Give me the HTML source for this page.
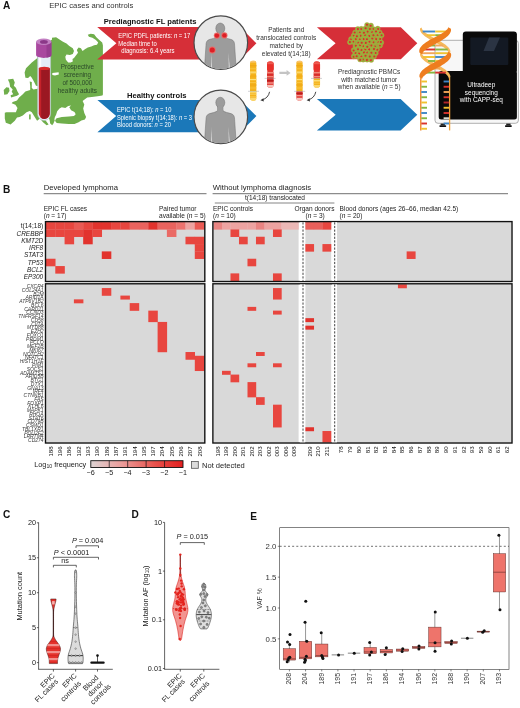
<!DOCTYPE html>
<html lang="en"><head><meta charset="utf-8"><title>Figure</title>
<style>html,body{margin:0;padding:0;background:#fff}svg{display:block}text{font-family:"Liberation Sans",Arial,sans-serif}</style></head>
<body>
<svg width="520" height="708" viewBox="0 0 520 708" font-family='"Liberation Sans", Arial, sans-serif'>
<rect width="520" height="708" fill="#fff"/>
<g id="panelA">
<text x="3.00" y="8.80" font-size="10.1" fill="#111" font-weight="bold">A</text>
<text x="49.20" y="8.30" font-size="7.7" fill="#333">EPIC cases and controls</text>
<path d="M52,39.5 L52,37.8 56.1,37.2 59.5,39.5 63,41.8 66.5,43.6 69.3,45.9 72.8,48.2 74,51.1 72.8,54 69.9,55.1 66.5,54.5 65.3,56.8 65.9,59.7 68.2,62.6 70.5,62.6 72.8,61.4 72.5,59.1 74,58 76.3,55.1 78,52.8 76.8,49.9 78.6,47.6 80.9,48.2 82.6,51.1 84.9,49.3 87.8,47.6 91.3,46.5 94.1,45.3 97,44.7 98.2,42.4 95.9,40.1 92.4,37.8 88.9,36.7 87.8,34.7 90.7,33.8 94.1,34.3 96.4,37.2 99.3,40.1 102.2,42.4 102.9,45.3 102.9,94.6 102.4,95.4 97.6,96.3 91.8,96.9 87.2,97.5 84.9,99.2 82.6,101 84.3,104.4 83.2,108.5 84.3,113.1 86.1,117.1 84.9,119.4 81.4,120.6 78.6,122.3 74.5,124 68.8,124 61.8,123.4 56.7,122.9 54.9,120.8 54.2,121.4 53.6,123.2 52.2,125.2 50.2,123.6 49.6,120 48,116 46,114 37.1,120.7 35,117.5 31.8,112.2 29.7,111.1 26.5,112.2 22.8,115.4 19.6,117 17,117.5 14.8,120.7 10.6,124.6 5.8,122.8 4.8,118.6 4.8,112.7 6.4,112.2 15.9,112.2 17.5,108 15.4,104.8 11.7,103.2 12.7,102.1 17,100.6 19.1,97.4 22.8,94.2 25.4,91.5 30.2,90 30.2,86 29.7,81.5 31.8,82 31.8,88 33.5,89.6 36,89 40,88.6 40,86.5 36,85.7 33.9,81.5 31.8,77.8 30.2,76 28.1,78.1 25.4,77.8 24.6,72.5 26,68.2 31.8,62.4 37.1,58.2 40,50 Z" fill="#6fae4b"/>
<path d="M37,114 L42,116.5 46,121 48.6,124.6 46.6,125.2 43,122.2 40,118.6 37,116.6Z" fill="#6fae4b"/>
<path d="M56.7,118.3 L61.8,117.1 68.8,116.5 74,116 75.7,114.2 74.5,111.9 71.1,110.2 69.3,107.3 71.1,105.6 68.2,106.1 65.3,107.9 61.8,107.3 59.5,108.5 57.2,111.3 56.1,114.8 54.9,117.1 54.5,118.8 54.4,120.4 55.4,120.6 55.8,119Z" fill="#fff"/>
<path d="M7.9,79.4 L13.2,78.8 14.8,82.5 13.8,85.7 15.9,87.8 17.5,91.5 19.1,94.2 17,95.8 11.1,97.4 10.6,95.3 13.2,94.2 11.7,91.5 12.7,89.4 10.1,86.8 9.5,83.1Z" fill="#6fae4b"/>
<path d="M3.7,90 L6.4,87.3 9,87.8 9.5,91 7.4,94.2 4.2,94.7Z" fill="#6fae4b"/>
<path d="M52.3,73 L58.6,72.2 58.8,74.6 55,75.6 52.3,75Z" fill="#fff"/>
<rect x="29.1" y="114.4" width="1.6" height="5.0" fill="#6fae4b"/>
<text x="77.40" y="69.00" font-size="6.35" text-anchor="middle" fill="#2c4a2a">Prospective</text>
<text x="77.40" y="77.10" font-size="6.35" text-anchor="middle" fill="#2c4a2a">screening</text>
<text x="77.40" y="85.20" font-size="6.35" text-anchor="middle" fill="#2c4a2a">of 500,000</text>
<text x="77.40" y="93.30" font-size="6.35" text-anchor="middle" fill="#2c4a2a">healthy adults</text>
<path d="M37.6,56 V114 a6.5,6.5 0 0 0 13,0 V56Z" fill="#e4edf6" stroke="#b4bfcc" stroke-width="0.5"/>
<rect x="39" y="57" width="2.2" height="11" fill="#fff" opacity="0.8"/>
<path d="M38.8,68.2 V113.3 a5.45,5.45 0 0 0 10.9,0 V68.2Z" fill="#c5222a"/>
<path d="M41.2,68.2 V118 a5.45,5.45 0 0 0 8.5,-4.7 V68.2Z" fill="#9b1822"/>
<ellipse cx="44.25" cy="68.4" rx="5.45" ry="1.6" fill="#d62b2a"/>
<path d="M36.1,41.8 V55.2 a7.65,2.7 0 0 0 15.3,0 V41.8Z" fill="#a9489f"/>
<path d="M46.5,44 V57.7 a7.65,2.7 0 0 0 4.9,-2.5 V41.8Z" fill="#973d90"/>
<ellipse cx="43.75" cy="41.8" rx="7.65" ry="3.2" fill="#c27fc2"/>
<ellipse cx="43.9" cy="41.9" rx="3.9" ry="1.9" fill="#8b3888"/>
<path d="M97.2,27.1 H240.2 L256.4,43.3 240.2,59.5 H97.2 L116.4,43.3Z" fill="#d62f38"/>
<path d="M97.4,100.0 H240.3 L256.4,116.1 240.3,132.2 H97.4 L116.2,116.1Z" fill="#1b78b9"/>
<text x="103.70" y="23.80" font-size="7.6" fill="#111" font-weight="bold">Prediagnostic FL patients</text>
<text x="127.00" y="98.10" font-size="7.6" fill="#111" font-weight="bold">Healthy controls</text>
<text x="118.30" y="38.20" font-size="6.3" fill="#fff" textLength="72.1" lengthAdjust="spacingAndGlyphs">EPIC PDFL patients: <tspan font-style="italic">n</tspan> = 17</text>
<text x="118.30" y="45.60" font-size="6.3" fill="#fff" textLength="38.4" lengthAdjust="spacingAndGlyphs">Median time to</text>
<text x="121.30" y="53.00" font-size="6.3" fill="#fff" textLength="53.3" lengthAdjust="spacingAndGlyphs">diagnosis: 6.4 years</text>
<text x="117.00" y="112.10" font-size="6.3" fill="#fff" textLength="54.4" lengthAdjust="spacingAndGlyphs">EPIC t(14;18): <tspan font-style="italic">n</tspan> = 10</text>
<text x="117.00" y="119.60" font-size="6.3" fill="#fff" textLength="75" lengthAdjust="spacingAndGlyphs">Splenic biopsy t(14;18): <tspan font-style="italic">n</tspan> = 3</text>
<text x="117.00" y="127.00" font-size="6.3" fill="#fff" textLength="54.0" lengthAdjust="spacingAndGlyphs">Blood donors: <tspan font-style="italic">n</tspan> = 20</text>
<clipPath id="pc1"><circle cx="220.8" cy="42.7" r="26.3"/></clipPath><circle cx="220.8" cy="42.7" r="26.8" fill="#e7e7e7" stroke="#4a4a4a" stroke-width="1.2"/><g clip-path="url(#pc1)"><path d="M217.60000000000002,32.400000000000006 V36.400000000000006 C216.10000000000002,38.2 211.8,38.6 209.10000000000002,39.6 C206.5,40.6 206.10000000000002,42.6 206.0,45.0 L203.9,76.4 H236.70000000000002 L234.60000000000002,45.0 C234.5,42.6 234.10000000000002,40.6 231.5,39.6 C228.8,38.6 224.5,38.2 223.0,36.400000000000006 V32.400000000000006Z" fill="#9c9c9c" stroke="#707070" stroke-width="0.5"/><path d="M212.0,52.900000000000006 L210.4,76.4 H211.60000000000002Z" fill="#f2f2f2"/><path d="M228.60000000000002,52.900000000000006 L230.20000000000002,76.4 H229.0Z" fill="#f2f2f2"/><ellipse cx="220.3" cy="28.400000000000002" rx="4.5" ry="5.35" fill="#9c9c9c" stroke="#707070" stroke-width="0.5"/><rect x="217.9" y="31.400000000000002" width="4.8" height="6" fill="#9c9c9c"/></g>
<clipPath id="pc2"><circle cx="220.8" cy="116.9" r="26.3"/></clipPath><circle cx="220.8" cy="116.9" r="26.8" fill="#e7e7e7" stroke="#4a4a4a" stroke-width="1.2"/><g clip-path="url(#pc2)"><path d="M217.60000000000002,106.60000000000001 V110.60000000000001 C216.10000000000002,112.4 211.8,112.80000000000001 209.10000000000002,113.80000000000001 C206.5,114.80000000000001 206.10000000000002,116.80000000000001 206.0,119.20000000000002 L203.9,150.60000000000002 H236.70000000000002 L234.60000000000002,119.20000000000002 C234.5,116.80000000000001 234.10000000000002,114.80000000000001 231.5,113.80000000000001 C228.8,112.80000000000001 224.5,112.4 223.0,110.60000000000001 V106.60000000000001Z" fill="#9c9c9c" stroke="#707070" stroke-width="0.5"/><path d="M212.0,127.10000000000001 L210.4,150.60000000000002 H211.60000000000002Z" fill="#f2f2f2"/><path d="M228.60000000000002,127.10000000000001 L230.20000000000002,150.60000000000002 H229.0Z" fill="#f2f2f2"/><ellipse cx="220.3" cy="102.60000000000001" rx="4.5" ry="5.35" fill="#9c9c9c" stroke="#707070" stroke-width="0.5"/><rect x="217.9" y="105.60000000000001" width="4.8" height="6" fill="#9c9c9c"/></g>
<circle cx="216.9" cy="35.6" r="3.1" fill="#ea6a66"/><circle cx="216.9" cy="35.6" r="2.2" fill="#dd1f26"/>
<circle cx="224.4" cy="35.4" r="3.1" fill="#ea6a66"/><circle cx="224.4" cy="35.4" r="2.2" fill="#dd1f26"/>
<circle cx="212.25" cy="50.0" r="3.4" fill="#ea6a66"/><circle cx="212.25" cy="50.0" r="2.5" fill="#dd1f26"/>
<text x="286.20" y="31.50" font-size="6.5" text-anchor="middle" fill="#333">Patients and</text>
<text x="286.20" y="39.55" font-size="6.5" text-anchor="middle" fill="#333">translocated controls</text>
<text x="286.20" y="47.60" font-size="6.5" text-anchor="middle" fill="#333">matched by</text>
<text x="286.20" y="55.65" font-size="6.5" text-anchor="middle" fill="#333">elevated t(14;18)</text>
<clipPath id="k1"><path d="M250.0,63.9 a3.3,3.3 0 0 1 6.6,0 V72.0 Q256.1,74.2 256.6,76.4 V97.60000000000001 a3.3,3.3 0 0 1 -6.6,0 V76.4 Q250.5,74.2 250.0,72.0Z"/></clipPath><g clip-path="url(#k1)"><rect x="250.00" y="60.60" width="6.60" height="40.30" fill="#f5b31c" /><rect x="250.00" y="60.60" width="6.60" height="2.00" fill="#f8c46e" /><rect x="250.00" y="65.00" width="6.60" height="1.40" fill="#efa716" /><rect x="250.00" y="68.40" width="6.60" height="0.80" fill="#f9c84a" /><rect x="250.00" y="71.40" width="6.60" height="2.00" fill="#fbd76a" /><rect x="250.00" y="75.60" width="6.60" height="0.80" fill="#efa716" /><rect x="250.00" y="78.90" width="6.60" height="1.30" fill="#fde27a" /><rect x="250.00" y="82.20" width="6.60" height="0.80" fill="#f9c84a" /><rect x="250.00" y="84.40" width="6.60" height="1.20" fill="#efa716" /><rect x="250.00" y="87.60" width="6.60" height="0.80" fill="#f9c84a" /><rect x="250.00" y="91.00" width="6.60" height="1.60" fill="#fde68a" /><rect x="250.00" y="93.60" width="6.60" height="1.00" fill="#fbd76a" /><rect x="250.00" y="96.00" width="6.60" height="0.80" fill="#f9c84a" /><rect x="250.00" y="97.60" width="6.60" height="3.30" fill="#fbd870" /></g>
<line x1="248.00" y1="91.30" x2="259.00" y2="91.30" stroke="#8a8a96" stroke-width="0.4" />
<clipPath id="k2"><path d="M267.0,64.7 a3.4,3.4 0 0 1 6.8,0 V69.0 Q272.90000000000003,71.2 273.8,73.4 V84.39999999999999 a3.4,3.4 0 0 1 -6.8,0 V73.4 Q267.9,71.2 267.0,69.0Z"/></clipPath><g clip-path="url(#k2)"><rect x="267.00" y="61.30" width="6.80" height="26.50" fill="#e23a34" /><rect x="267.00" y="61.30" width="6.80" height="9.10" fill="#e8302a" /><rect x="267.00" y="62.20" width="6.80" height="2.00" fill="#ee5a50" /><rect x="267.00" y="72.00" width="6.80" height="1.40" fill="#f08a7c" /><rect x="267.00" y="74.60" width="6.80" height="0.60" fill="#c9201f" /><rect x="267.00" y="76.00" width="6.80" height="1.30" fill="#f08a7c" /><rect x="267.00" y="79.90" width="6.80" height="1.60" fill="#b81c1c" /><rect x="267.00" y="82.50" width="6.80" height="1.00" fill="#f6b4aa" /><rect x="267.00" y="84.90" width="6.80" height="2.90" fill="#f7c4bc" /></g>
<line x1="264.60" y1="78.40" x2="275.60" y2="78.40" stroke="#8a8a96" stroke-width="0.4" />
<clipPath id="k3"><path d="M296.2,63.9 a3.3,3.3 0 0 1 6.6,0 V72.0 Q302.3,74.2 302.8,76.4 V97.60000000000001 a3.3,3.3 0 0 1 -6.6,0 V76.4 Q296.7,74.2 296.2,72.0Z"/></clipPath><g clip-path="url(#k3)"><rect x="296.20" y="60.60" width="6.60" height="30.70" fill="#f5b31c" /><rect x="296.20" y="60.60" width="6.60" height="2.00" fill="#f8c46e" /><rect x="296.20" y="65.00" width="6.60" height="1.40" fill="#efa716" /><rect x="296.20" y="68.40" width="6.60" height="0.80" fill="#f9c84a" /><rect x="296.20" y="71.40" width="6.60" height="2.00" fill="#fbd76a" /><rect x="296.20" y="75.60" width="6.60" height="0.80" fill="#efa716" /><rect x="296.20" y="78.90" width="6.60" height="1.30" fill="#fde27a" /><rect x="296.20" y="82.20" width="6.60" height="0.80" fill="#f9c84a" /><rect x="296.20" y="84.40" width="6.60" height="1.20" fill="#efa716" /><rect x="296.20" y="87.60" width="6.60" height="0.80" fill="#f9c84a" /><rect x="296.20" y="91.30" width="6.60" height="9.60" fill="#e23a34" /><rect x="296.20" y="92.60" width="6.60" height="1.60" fill="#b81c1c" /><rect x="296.20" y="95.20" width="6.60" height="1.00" fill="#f6b4aa" /><rect x="296.20" y="97.80" width="6.60" height="3.10" fill="#f7c4bc" /></g>
<line x1="294.20" y1="91.30" x2="305.20" y2="91.30" stroke="#8a8a96" stroke-width="0.4" />
<clipPath id="k4"><path d="M313.4,64.7 a3.4,3.4 0 0 1 6.8,0 V69.0 Q319.3,71.2 320.2,73.4 V84.39999999999999 a3.4,3.4 0 0 1 -6.8,0 V73.4 Q314.29999999999995,71.2 313.4,69.0Z"/></clipPath><g clip-path="url(#k4)"><rect x="313.40" y="61.30" width="6.80" height="17.10" fill="#e23a34" /><rect x="313.40" y="61.30" width="6.80" height="9.10" fill="#e8302a" /><rect x="313.40" y="62.20" width="6.80" height="2.00" fill="#ee5a50" /><rect x="313.40" y="72.00" width="6.80" height="1.40" fill="#f08a7c" /><rect x="313.40" y="74.60" width="6.80" height="0.60" fill="#c9201f" /><rect x="313.40" y="76.00" width="6.80" height="1.30" fill="#f08a7c" /><rect x="313.40" y="78.40" width="6.80" height="9.40" fill="#f5b31c" /><rect x="313.40" y="80.20" width="6.80" height="1.20" fill="#fde68a" /><rect x="313.40" y="82.80" width="6.80" height="0.80" fill="#f9c84a" /><rect x="313.40" y="85.00" width="6.80" height="2.80" fill="#fbd870" /></g>
<line x1="311.00" y1="78.40" x2="322.00" y2="78.40" stroke="#8a8a96" stroke-width="0.4" />
<path d="M279.4,71.7 H286.6 V70 L290.6,72.9 286.6,75.8 V74.1 H279.4Z" fill="#c4c4c4"/>
<path d="M269.6,91.8 Q268.2,98.2 262.2,99.8" fill="none" stroke="#333" stroke-width="0.9"/>
<path d="M263.4,98.2 L260.4,100.2 263.8,101.4Z" fill="#333"/>
<path d="M315.8,91.8 Q314.4,98.2 308.4,99.8" fill="none" stroke="#333" stroke-width="0.9"/>
<path d="M309.59999999999997,98.2 L306.59999999999997,100.2 310.0,101.4Z" fill="#333"/>
<path d="M316.9,27.2 H400.8 L417.3,43.3 400.8,59.3 H316.9 L335.6,43.3Z" fill="#d62f38"/>
<path d="M316.9,99.0 H400.6 L417.3,114.8 400.6,130.6 H316.9 L335.7,114.8Z" fill="#1b78b9"/>
<text x="369.20" y="74.20" font-size="6.4" text-anchor="middle" fill="#333">Prediagnostic PBMCs</text>
<text x="369.20" y="81.80" font-size="6.4" text-anchor="middle" fill="#333">with matched tumor</text>
<text x="369.20" y="89.40" font-size="6.4" text-anchor="middle" fill="#333">when available (<tspan font-style="italic">n</tspan> = 5)</text>
<circle cx="361.7" cy="56.3" r="2.5" fill="#8fb23c" stroke="#c79a3e" stroke-width="0.38"/>
<circle cx="361.3" cy="56.6" r="1.05" fill="#df2b28"/>
<circle cx="353.2" cy="42.0" r="2.5" fill="#8fb23c" stroke="#c79a3e" stroke-width="0.38"/>
<circle cx="353.1" cy="41.6" r="1.05" fill="#df2b28"/>
<circle cx="377.6" cy="42.3" r="2.5" fill="#8fb23c" stroke="#c79a3e" stroke-width="0.38"/>
<circle cx="378.1" cy="41.8" r="1.05" fill="#df2b28"/>
<circle cx="359.7" cy="39.6" r="2.5" fill="#8fb23c" stroke="#c79a3e" stroke-width="0.38"/>
<circle cx="359.8" cy="39.5" r="1.05" fill="#df2b28"/>
<circle cx="355.4" cy="45.9" r="2.5" fill="#8fb23c" stroke="#c79a3e" stroke-width="0.38"/>
<circle cx="355.8" cy="45.8" r="1.05" fill="#df2b28"/>
<circle cx="375.8" cy="53.2" r="2.5" fill="#8fb23c" stroke="#c79a3e" stroke-width="0.38"/>
<circle cx="375.6" cy="53.0" r="1.05" fill="#df2b28"/>
<circle cx="367.9" cy="31.6" r="2.5" fill="#8fb23c" stroke="#c79a3e" stroke-width="0.38"/>
<circle cx="367.6" cy="31.6" r="1.05" fill="#df2b28"/>
<circle cx="359.2" cy="53.4" r="2.5" fill="#8fb23c" stroke="#c79a3e" stroke-width="0.38"/>
<circle cx="359.1" cy="53.6" r="1.05" fill="#df2b28"/>
<circle cx="373.3" cy="29.1" r="2.5" fill="#8fb23c" stroke="#c79a3e" stroke-width="0.38"/>
<circle cx="373.0" cy="29.0" r="1.05" fill="#df2b28"/>
<circle cx="360.2" cy="32.0" r="2.5" fill="#8fb23c" stroke="#c79a3e" stroke-width="0.38"/>
<circle cx="359.9" cy="32.5" r="1.05" fill="#df2b28"/>
<circle cx="377.0" cy="49.3" r="2.5" fill="#8fb23c" stroke="#c79a3e" stroke-width="0.38"/>
<circle cx="377.3" cy="49.7" r="1.05" fill="#df2b28"/>
<circle cx="353.7" cy="35.6" r="2.5" fill="#8fb23c" stroke="#c79a3e" stroke-width="0.38"/>
<circle cx="353.8" cy="35.5" r="1.05" fill="#df2b28"/>
<circle cx="369.4" cy="49.0" r="2.5" fill="#8fb23c" stroke="#c79a3e" stroke-width="0.38"/>
<circle cx="369.1" cy="49.4" r="1.05" fill="#df2b28"/>
<circle cx="376.2" cy="39.6" r="2.5" fill="#8fb23c" stroke="#c79a3e" stroke-width="0.38"/>
<circle cx="376.2" cy="39.1" r="1.05" fill="#df2b28"/>
<circle cx="367.2" cy="52.8" r="2.5" fill="#8fb23c" stroke="#c79a3e" stroke-width="0.38"/>
<circle cx="366.8" cy="52.4" r="1.05" fill="#df2b28"/>
<circle cx="355.7" cy="38.5" r="2.5" fill="#8fb23c" stroke="#c79a3e" stroke-width="0.38"/>
<circle cx="355.9" cy="38.9" r="1.05" fill="#df2b28"/>
<circle cx="360.8" cy="35.4" r="2.5" fill="#8fb23c" stroke="#c79a3e" stroke-width="0.38"/>
<circle cx="360.5" cy="35.7" r="1.05" fill="#df2b28"/>
<circle cx="367.1" cy="59.7" r="2.5" fill="#8fb23c" stroke="#c79a3e" stroke-width="0.38"/>
<circle cx="366.9" cy="59.9" r="1.05" fill="#df2b28"/>
<circle cx="374.0" cy="56.4" r="2.5" fill="#8fb23c" stroke="#c79a3e" stroke-width="0.38"/>
<circle cx="374.3" cy="56.5" r="1.05" fill="#df2b28"/>
<circle cx="355.2" cy="53.1" r="2.5" fill="#8fb23c" stroke="#c79a3e" stroke-width="0.38"/>
<circle cx="355.5" cy="53.0" r="1.05" fill="#df2b28"/>
<circle cx="373.9" cy="42.2" r="2.5" fill="#8fb23c" stroke="#c79a3e" stroke-width="0.38"/>
<circle cx="373.4" cy="42.2" r="1.05" fill="#df2b28"/>
<circle cx="372.2" cy="38.8" r="2.5" fill="#8fb23c" stroke="#c79a3e" stroke-width="0.38"/>
<circle cx="372.3" cy="38.5" r="1.05" fill="#df2b28"/>
<circle cx="363.3" cy="46.5" r="2.5" fill="#8fb23c" stroke="#c79a3e" stroke-width="0.38"/>
<circle cx="363.1" cy="46.3" r="1.05" fill="#df2b28"/>
<circle cx="369.9" cy="42.0" r="2.5" fill="#8fb23c" stroke="#c79a3e" stroke-width="0.38"/>
<circle cx="369.4" cy="41.8" r="1.05" fill="#df2b28"/>
<circle cx="380.1" cy="45.5" r="2.5" fill="#8fb23c" stroke="#c79a3e" stroke-width="0.38"/>
<circle cx="380.0" cy="45.5" r="1.05" fill="#df2b28"/>
<circle cx="365.0" cy="49.7" r="2.5" fill="#8fb23c" stroke="#c79a3e" stroke-width="0.38"/>
<circle cx="365.3" cy="49.6" r="1.05" fill="#df2b28"/>
<circle cx="379.7" cy="38.7" r="2.5" fill="#8fb23c" stroke="#c79a3e" stroke-width="0.38"/>
<circle cx="380.2" cy="39.0" r="1.05" fill="#df2b28"/>
<circle cx="363.4" cy="38.9" r="2.5" fill="#8fb23c" stroke="#c79a3e" stroke-width="0.38"/>
<circle cx="363.8" cy="39.1" r="1.05" fill="#df2b28"/>
<circle cx="369.0" cy="36.0" r="2.5" fill="#8fb23c" stroke="#c79a3e" stroke-width="0.38"/>
<circle cx="369.2" cy="36.0" r="1.05" fill="#df2b28"/>
<circle cx="363.6" cy="52.5" r="2.5" fill="#8fb23c" stroke="#c79a3e" stroke-width="0.38"/>
<circle cx="363.9" cy="52.4" r="1.05" fill="#df2b28"/>
<circle cx="369.9" cy="28.8" r="2.5" fill="#8fb23c" stroke="#c79a3e" stroke-width="0.38"/>
<circle cx="370.0" cy="29.0" r="1.05" fill="#df2b28"/>
<circle cx="367.0" cy="24.9" r="2.5" fill="#8fb23c" stroke="#c79a3e" stroke-width="0.38"/>
<circle cx="367.0" cy="24.7" r="1.05" fill="#df2b28"/>
<circle cx="371.8" cy="45.9" r="2.5" fill="#8fb23c" stroke="#c79a3e" stroke-width="0.38"/>
<circle cx="371.4" cy="45.5" r="1.05" fill="#df2b28"/>
<circle cx="377.7" cy="34.9" r="2.5" fill="#8fb23c" stroke="#c79a3e" stroke-width="0.38"/>
<circle cx="377.6" cy="35.0" r="1.05" fill="#df2b28"/>
<circle cx="371.9" cy="32.1" r="2.5" fill="#8fb23c" stroke="#c79a3e" stroke-width="0.38"/>
<circle cx="372.2" cy="32.3" r="1.05" fill="#df2b28"/>
<circle cx="351.0" cy="39.1" r="2.5" fill="#8fb23c" stroke="#c79a3e" stroke-width="0.38"/>
<circle cx="350.8" cy="39.5" r="1.05" fill="#df2b28"/>
<circle cx="375.2" cy="46.4" r="2.5" fill="#8fb23c" stroke="#c79a3e" stroke-width="0.38"/>
<circle cx="375.0" cy="46.6" r="1.05" fill="#df2b28"/>
<circle cx="371.9" cy="52.6" r="2.5" fill="#8fb23c" stroke="#c79a3e" stroke-width="0.38"/>
<circle cx="371.4" cy="52.8" r="1.05" fill="#df2b28"/>
<circle cx="358.2" cy="42.2" r="2.5" fill="#8fb23c" stroke="#c79a3e" stroke-width="0.38"/>
<circle cx="358.4" cy="42.7" r="1.05" fill="#df2b28"/>
<circle cx="379.7" cy="32.4" r="2.5" fill="#8fb23c" stroke="#c79a3e" stroke-width="0.38"/>
<circle cx="380.1" cy="32.6" r="1.05" fill="#df2b28"/>
<circle cx="373.7" cy="48.9" r="2.5" fill="#8fb23c" stroke="#c79a3e" stroke-width="0.38"/>
<circle cx="374.0" cy="49.1" r="1.05" fill="#df2b28"/>
<circle cx="365.4" cy="56.0" r="2.5" fill="#8fb23c" stroke="#c79a3e" stroke-width="0.38"/>
<circle cx="365.5" cy="55.7" r="1.05" fill="#df2b28"/>
<circle cx="353.7" cy="56.3" r="2.5" fill="#8fb23c" stroke="#c79a3e" stroke-width="0.38"/>
<circle cx="353.7" cy="56.7" r="1.05" fill="#df2b28"/>
<circle cx="367.2" cy="38.7" r="2.5" fill="#8fb23c" stroke="#c79a3e" stroke-width="0.38"/>
<circle cx="366.9" cy="39.2" r="1.05" fill="#df2b28"/>
<circle cx="381.6" cy="35.3" r="2.5" fill="#8fb23c" stroke="#c79a3e" stroke-width="0.38"/>
<circle cx="381.6" cy="35.2" r="1.05" fill="#df2b28"/>
<circle cx="357.2" cy="56.3" r="2.5" fill="#8fb23c" stroke="#c79a3e" stroke-width="0.38"/>
<circle cx="356.7" cy="56.2" r="1.05" fill="#df2b28"/>
<circle cx="361.3" cy="28.8" r="2.5" fill="#8fb23c" stroke="#c79a3e" stroke-width="0.38"/>
<circle cx="361.0" cy="29.0" r="1.05" fill="#df2b28"/>
<circle cx="377.7" cy="28.6" r="2.5" fill="#8fb23c" stroke="#c79a3e" stroke-width="0.38"/>
<circle cx="378.1" cy="29.0" r="1.05" fill="#df2b28"/>
<circle cx="361.2" cy="50.1" r="2.5" fill="#8fb23c" stroke="#c79a3e" stroke-width="0.38"/>
<circle cx="361.4" cy="50.0" r="1.05" fill="#df2b28"/>
<circle cx="371.0" cy="25.5" r="2.5" fill="#8fb23c" stroke="#c79a3e" stroke-width="0.38"/>
<circle cx="370.7" cy="25.7" r="1.05" fill="#df2b28"/>
<circle cx="365.7" cy="42.7" r="2.5" fill="#8fb23c" stroke="#c79a3e" stroke-width="0.38"/>
<circle cx="365.8" cy="42.9" r="1.05" fill="#df2b28"/>
<circle cx="353.7" cy="50.1" r="2.5" fill="#8fb23c" stroke="#c79a3e" stroke-width="0.38"/>
<circle cx="353.6" cy="50.5" r="1.05" fill="#df2b28"/>
<circle cx="363.2" cy="59.7" r="2.5" fill="#8fb23c" stroke="#c79a3e" stroke-width="0.38"/>
<circle cx="362.9" cy="59.5" r="1.05" fill="#df2b28"/>
<circle cx="371.2" cy="60.0" r="2.5" fill="#8fb23c" stroke="#c79a3e" stroke-width="0.38"/>
<circle cx="370.9" cy="60.1" r="1.05" fill="#df2b28"/>
<circle cx="365.2" cy="28.5" r="2.5" fill="#8fb23c" stroke="#c79a3e" stroke-width="0.38"/>
<circle cx="365.6" cy="28.2" r="1.05" fill="#df2b28"/>
<circle cx="357.8" cy="28.9" r="2.5" fill="#8fb23c" stroke="#c79a3e" stroke-width="0.38"/>
<circle cx="357.9" cy="29.1" r="1.05" fill="#df2b28"/>
<circle cx="365.2" cy="35.4" r="2.5" fill="#8fb23c" stroke="#c79a3e" stroke-width="0.38"/>
<circle cx="365.0" cy="35.0" r="1.05" fill="#df2b28"/>
<circle cx="373.4" cy="34.9" r="2.5" fill="#8fb23c" stroke="#c79a3e" stroke-width="0.38"/>
<circle cx="373.4" cy="35.2" r="1.05" fill="#df2b28"/>
<circle cx="366.9" cy="46.5" r="2.5" fill="#8fb23c" stroke="#c79a3e" stroke-width="0.38"/>
<circle cx="367.3" cy="46.7" r="1.05" fill="#df2b28"/>
<circle cx="349.9" cy="42.2" r="2.5" fill="#8fb23c" stroke="#c79a3e" stroke-width="0.38"/>
<circle cx="349.9" cy="42.1" r="1.05" fill="#df2b28"/>
<circle cx="360.1" cy="59.5" r="2.5" fill="#8fb23c" stroke="#c79a3e" stroke-width="0.38"/>
<circle cx="360.1" cy="59.9" r="1.05" fill="#df2b28"/>
<circle cx="370.0" cy="56.7" r="2.5" fill="#8fb23c" stroke="#c79a3e" stroke-width="0.38"/>
<circle cx="369.8" cy="56.5" r="1.05" fill="#df2b28"/>
<circle cx="363.8" cy="32.3" r="2.5" fill="#8fb23c" stroke="#c79a3e" stroke-width="0.38"/>
<circle cx="363.9" cy="32.8" r="1.05" fill="#df2b28"/>
<circle cx="381.3" cy="42.6" r="2.5" fill="#8fb23c" stroke="#c79a3e" stroke-width="0.38"/>
<circle cx="380.9" cy="42.1" r="1.05" fill="#df2b28"/>
<circle cx="355.1" cy="32.5" r="2.5" fill="#8fb23c" stroke="#c79a3e" stroke-width="0.38"/>
<circle cx="354.7" cy="32.5" r="1.05" fill="#df2b28"/>
<circle cx="360.0" cy="45.6" r="2.5" fill="#8fb23c" stroke="#c79a3e" stroke-width="0.38"/>
<circle cx="360.1" cy="45.3" r="1.05" fill="#df2b28"/>
<circle cx="357.2" cy="36.1" r="2.5" fill="#8fb23c" stroke="#c79a3e" stroke-width="0.38"/>
<circle cx="356.9" cy="36.2" r="1.05" fill="#df2b28"/>
<circle cx="357.8" cy="49.0" r="2.5" fill="#8fb23c" stroke="#c79a3e" stroke-width="0.38"/>
<circle cx="358.0" cy="49.2" r="1.05" fill="#df2b28"/>
<circle cx="375.8" cy="31.9" r="2.5" fill="#8fb23c" stroke="#c79a3e" stroke-width="0.38"/>
<circle cx="376.0" cy="31.5" r="1.05" fill="#df2b28"/>
<circle cx="361.7" cy="42.5" r="2.5" fill="#8fb23c" stroke="#c79a3e" stroke-width="0.38"/>
<circle cx="361.7" cy="42.8" r="1.05" fill="#df2b28"/>
<rect x="435.0" y="40.3" width="83.4" height="83.0" rx="3" fill="#f7f7f7" stroke="#8e8e8e" stroke-width="0.7"/>
<rect x="438.7" y="71" width="78.2" height="48.4" rx="2.5" fill="#0a0a0a"/>
<rect x="462.8" y="31.5" width="54.1" height="42" rx="3" fill="#0a0a0a"/>
<rect x="470.3" y="37.6" width="38.0" height="27.3" rx="1" fill="#131923"/>
<path d="M489,37.6 H500 L494,51 H483.5Z" fill="#2b3443"/>
<rect x="440.6" y="123.6" width="4.4" height="1.8" fill="#222"/><rect x="439.40000000000003" y="125.2" width="6.8" height="1.7" rx="0.6" fill="#111"/>
<rect x="506.2" y="123.6" width="4.4" height="1.8" fill="#222"/><rect x="505.0" y="125.2" width="6.8" height="1.7" rx="0.6" fill="#111"/>
<text x="481.30" y="86.90" font-size="6.45" text-anchor="middle" fill="#fff">Ultradeep</text>
<text x="481.30" y="94.60" font-size="6.45" text-anchor="middle" fill="#fff">sequencing</text>
<text x="481.30" y="102.30" font-size="6.45" text-anchor="middle" fill="#fff">with CAPP-seq</text>
<path d="M420.00,28.45 L419.99,29.56 L420.23,30.68 L420.71,31.79 L421.43,32.89 L422.37,34.00 L423.51,35.09 L424.84,36.18 L426.33,37.27 L427.97,38.34 L429.71,39.41 L431.53,40.46 L433.40,41.51 L435.29,42.54 L437.16,43.57 L438.99,44.59 L440.73,45.60 L442.37,46.60 L443.88,47.59 L445.22,48.58 L446.37,49.56 L447.32,50.54 L448.05,51.51 L448.55,52.48 L448.80,53.45 L450.40,52.55 L450.41,51.44 L450.17,50.32 L449.69,49.21 L448.97,48.11 L448.03,47.00 L446.89,45.91 L445.56,44.82 L444.07,43.73 L442.43,42.66 L440.69,41.59 L438.87,40.54 L437.00,39.49 L435.11,38.46 L433.24,37.43 L431.41,36.41 L429.67,35.40 L428.03,34.40 L426.52,33.41 L425.18,32.42 L424.03,31.44 L423.08,30.46 L422.35,29.49 L421.85,28.52 L421.60,27.55Z" fill="#f6b95c"/>
<path d="M420.00,53.45 L419.99,54.56 L420.23,55.68 L420.71,56.79 L421.43,57.89 L422.37,59.00 L423.51,60.09 L424.84,61.18 L426.33,62.27 L427.97,63.34 L429.71,64.41 L431.53,65.46 L433.40,66.51 L435.29,67.54 L437.16,68.57 L438.99,69.59 L440.73,70.60 L442.37,71.60 L443.88,72.59 L445.22,73.58 L446.37,74.56 L447.32,75.54 L448.05,76.51 L448.55,77.48 L448.80,78.45 L450.40,77.55 L450.41,76.44 L450.17,75.32 L449.69,74.21 L448.97,73.11 L448.03,72.00 L446.89,70.91 L445.56,69.82 L444.07,68.73 L442.43,67.66 L440.69,66.59 L438.87,65.54 L437.00,64.49 L435.11,63.46 L433.24,62.43 L431.41,61.41 L429.67,60.40 L428.03,59.40 L426.52,58.41 L425.18,57.42 L424.03,56.44 L423.08,55.46 L422.35,54.49 L421.85,53.52 L421.60,52.55Z" fill="#f6b95c"/>
<line x1="422.67" y1="31.50" x2="435.20" y2="31.50" stroke="#3f86c6" stroke-width="1.9" />
<line x1="435.20" y1="31.50" x2="447.73" y2="31.50" stroke="#f0c22e" stroke-width="1.9" />
<line x1="426.80" y1="35.20" x2="435.20" y2="35.20" stroke="#f0c22e" stroke-width="1.9" />
<line x1="435.20" y1="35.20" x2="443.60" y2="35.20" stroke="#86b53f" stroke-width="1.9" />
<line x1="427.24" y1="45.50" x2="435.20" y2="45.50" stroke="#86b53f" stroke-width="1.9" />
<line x1="435.20" y1="45.50" x2="443.16" y2="45.50" stroke="#f2a65a" stroke-width="1.9" />
<line x1="422.67" y1="49.50" x2="435.20" y2="49.50" stroke="#d9332d" stroke-width="1.9" />
<line x1="435.20" y1="49.50" x2="447.73" y2="49.50" stroke="#86b53f" stroke-width="1.9" />
<line x1="421.30" y1="53.20" x2="435.20" y2="53.20" stroke="#f2a65a" stroke-width="1.9" />
<line x1="435.20" y1="53.20" x2="449.10" y2="53.20" stroke="#f0c22e" stroke-width="1.9" />
<line x1="423.08" y1="57.00" x2="435.20" y2="57.00" stroke="#f0c22e" stroke-width="1.9" />
<line x1="435.20" y1="57.00" x2="447.32" y2="57.00" stroke="#3f86c6" stroke-width="1.9" />
<line x1="427.98" y1="61.00" x2="435.20" y2="61.00" stroke="#86b53f" stroke-width="1.9" />
<line x1="435.20" y1="61.00" x2="442.42" y2="61.00" stroke="#f0c22e" stroke-width="1.9" />
<line x1="430.40" y1="68.50" x2="435.20" y2="68.50" stroke="#f0c22e" stroke-width="1.9" />
<line x1="435.20" y1="68.50" x2="440.00" y2="68.50" stroke="#f2a65a" stroke-width="1.9" />
<line x1="424.49" y1="72.60" x2="435.20" y2="72.60" stroke="#86b53f" stroke-width="1.9" />
<line x1="435.20" y1="72.60" x2="445.91" y2="72.60" stroke="#d9332d" stroke-width="1.9" />
<path d="M420.8,130.4 V79 Q420.8,74.8 424.8,74.4" fill="none" stroke="#ee7d1f" stroke-width="1.3"/>
<path d="M449.6,130.4 V78" fill="none" stroke="#f3a33a" stroke-width="1.3"/>
<line x1="421.30" y1="81.50" x2="427.00" y2="81.50" stroke="#f0c22e" stroke-width="1.9" />
<line x1="443.60" y1="81.50" x2="449.10" y2="81.50" stroke="#3f86c6" stroke-width="1.9" />
<line x1="421.30" y1="86.75" x2="427.00" y2="86.75" stroke="#86b53f" stroke-width="1.9" />
<line x1="443.60" y1="86.75" x2="449.10" y2="86.75" stroke="#d9332d" stroke-width="1.9" />
<line x1="421.30" y1="92.00" x2="427.00" y2="92.00" stroke="#3f86c6" stroke-width="1.9" />
<line x1="443.60" y1="92.00" x2="449.10" y2="92.00" stroke="#f2a65a" stroke-width="1.9" />
<line x1="421.30" y1="97.25" x2="427.00" y2="97.25" stroke="#86b53f" stroke-width="1.9" />
<line x1="443.60" y1="97.25" x2="449.10" y2="97.25" stroke="#d9332d" stroke-width="1.9" />
<line x1="421.30" y1="102.50" x2="427.00" y2="102.50" stroke="#f0c22e" stroke-width="1.9" />
<line x1="443.60" y1="102.50" x2="449.10" y2="102.50" stroke="#b3262a" stroke-width="1.9" />
<line x1="421.30" y1="107.75" x2="427.00" y2="107.75" stroke="#86b53f" stroke-width="1.9" />
<line x1="443.60" y1="107.75" x2="449.10" y2="107.75" stroke="#f0c22e" stroke-width="1.9" />
<line x1="421.30" y1="113.00" x2="427.00" y2="113.00" stroke="#3f86c6" stroke-width="1.9" />
<line x1="443.60" y1="113.00" x2="449.10" y2="113.00" stroke="#d9332d" stroke-width="1.9" />
<line x1="421.30" y1="118.25" x2="427.00" y2="118.25" stroke="#86b53f" stroke-width="1.9" />
<line x1="443.60" y1="118.25" x2="449.10" y2="118.25" stroke="#d8dccf" stroke-width="1.9" />
<line x1="421.30" y1="123.50" x2="427.00" y2="123.50" stroke="#d9332d" stroke-width="1.9" />
<line x1="443.60" y1="123.50" x2="449.10" y2="123.50" stroke="#3f86c6" stroke-width="1.9" />
<line x1="421.30" y1="128.75" x2="427.00" y2="128.75" stroke="#f0c22e" stroke-width="1.9" />
<path d="M448.30,27.27 L447.92,28.20 L447.29,29.13 L446.42,30.06 L445.33,31.01 L444.03,31.96 L442.55,32.92 L440.91,33.89 L439.14,34.88 L437.28,35.89 L435.35,36.91 L433.40,37.95 L431.46,39.01 L429.56,40.08 L427.73,41.18 L426.01,42.29 L424.44,43.42 L423.03,44.56 L421.81,45.72 L420.82,46.89 L420.05,48.07 L419.53,49.26 L419.27,50.46 L419.28,51.67 L419.54,52.87 L422.14,54.33 L422.37,53.40 L422.86,52.47 L423.59,51.54 L424.55,50.59 L425.73,49.64 L427.10,48.68 L428.64,47.71 L430.33,46.72 L432.12,45.71 L434.00,44.69 L435.92,43.65 L437.86,42.59 L439.77,41.52 L441.62,40.42 L443.39,39.31 L445.03,38.18 L446.52,37.04 L447.83,35.88 L448.94,34.71 L449.83,33.53 L450.48,32.34 L450.88,31.14 L451.02,29.93 L450.90,28.73Z" fill="#ee7d1f"/>
<path d="M448.26,51.67 L448.03,52.60 L447.54,53.53 L446.81,54.46 L445.85,55.41 L444.67,56.36 L443.30,57.32 L441.76,58.29 L440.07,59.28 L438.28,60.29 L436.40,61.31 L434.48,62.35 L432.54,63.41 L430.63,64.48 L428.78,65.58 L427.01,66.69 L425.37,67.82 L423.88,68.96 L422.57,70.12 L421.46,71.29 L420.57,72.47 L419.92,73.66 L419.52,74.86 L419.38,76.07 L419.50,77.27 L422.10,78.73 L422.48,77.80 L423.11,76.87 L423.98,75.94 L425.07,74.99 L426.37,74.04 L427.85,73.08 L429.49,72.11 L431.26,71.12 L433.12,70.11 L435.05,69.09 L437.00,68.05 L438.94,66.99 L440.84,65.92 L442.67,64.82 L444.39,63.71 L445.96,62.58 L447.37,61.44 L448.59,60.28 L449.58,59.11 L450.35,57.93 L450.87,56.74 L451.13,55.54 L451.12,54.33 L450.86,53.13Z" fill="#ee7d1f"/>
</g>
<g id="panelB">
<text x="3.00" y="192.50" font-size="10.1" fill="#111" font-weight="bold">B</text>
<text x="43.70" y="190.20" font-size="7.7" fill="#222">Developed lymphoma</text>
<line x1="43.70" y1="193.70" x2="206.50" y2="193.70" stroke="#333" stroke-width="0.7" />
<text x="212.80" y="190.20" font-size="7.7" fill="#222">Without lymphoma diagnosis</text>
<line x1="212.60" y1="193.70" x2="508.00" y2="193.70" stroke="#333" stroke-width="0.7" />
<text x="275.00" y="200.30" font-size="6.55" text-anchor="middle" fill="#222">t(14;18) translocated</text>
<line x1="214.80" y1="203.00" x2="334.40" y2="203.00" stroke="#333" stroke-width="0.6" />
<text x="43.70" y="210.70" font-size="6.55" fill="#222">EPIC FL cases</text>
<text x="43.70" y="218.20" font-size="6.55" fill="#222">(<tspan font-style="italic">n</tspan> = 17)</text>
<text x="159.00" y="210.70" font-size="6.55" fill="#222">Paired tumor</text>
<text x="159.00" y="218.20" font-size="6.55" fill="#222">available (<tspan font-style="italic">n</tspan> = 5)</text>
<text x="213.00" y="210.70" font-size="6.55" fill="#222">EPIC controls</text>
<text x="213.00" y="218.20" font-size="6.55" fill="#222">(<tspan font-style="italic">n</tspan> = 10)</text>
<text x="294.40" y="210.90" font-size="6.55" fill="#222">Organ donors</text>
<text x="305.60" y="218.40" font-size="6.55" fill="#222">(<tspan font-style="italic">n</tspan> = 3)</text>
<text x="339.60" y="210.70" font-size="6.55" fill="#222">Blood donors (ages 26–66, median 42.5)</text>
<text x="339.60" y="218.20" font-size="6.55" fill="#222">(<tspan font-style="italic">n</tspan> = 20)</text>
<rect x="46.10" y="222.20" width="158.10" height="58.64" fill="#d9d9d9" />
<rect x="46.10" y="284.40" width="158.10" height="158.00" fill="#d9d9d9" />
<rect x="213.60" y="222.20" width="85.00" height="58.64" fill="#d9d9d9" />
<rect x="213.60" y="284.40" width="85.00" height="158.00" fill="#d9d9d9" />
<rect x="305.30" y="222.20" width="25.89" height="58.64" fill="#d9d9d9" />
<rect x="305.30" y="284.40" width="25.89" height="158.00" fill="#d9d9d9" />
<rect x="337.00" y="222.20" width="174.40" height="58.64" fill="#d9d9d9" />
<rect x="337.00" y="284.40" width="174.40" height="158.00" fill="#d9d9d9" />
<rect x="45.98" y="222.08" width="9.54" height="7.57" fill="#e8463f" />
<rect x="55.28" y="222.08" width="9.54" height="7.57" fill="#e8463f" />
<rect x="64.58" y="222.08" width="9.54" height="7.57" fill="#e8463f" />
<rect x="73.88" y="222.08" width="9.54" height="7.57" fill="#ea5a54" />
<rect x="83.18" y="222.08" width="9.54" height="7.57" fill="#e8463f" />
<rect x="92.48" y="222.08" width="9.54" height="7.57" fill="#e2332d" />
<rect x="101.78" y="222.08" width="9.54" height="7.57" fill="#e2332d" />
<rect x="111.08" y="222.08" width="9.54" height="7.57" fill="#e8463f" />
<rect x="120.38" y="222.08" width="9.54" height="7.57" fill="#e8463f" />
<rect x="129.68" y="222.08" width="9.54" height="7.57" fill="#ea635e" />
<rect x="138.98" y="222.08" width="9.54" height="7.57" fill="#ea635e" />
<rect x="148.28" y="222.08" width="9.54" height="7.57" fill="#e2332d" />
<rect x="157.58" y="222.08" width="9.54" height="7.57" fill="#ea635e" />
<rect x="166.88" y="222.08" width="9.54" height="7.57" fill="#ea635e" />
<rect x="176.18" y="222.08" width="9.54" height="7.57" fill="#ec726e" />
<rect x="185.48" y="222.08" width="9.54" height="7.57" fill="#eda3a1" />
<rect x="194.78" y="222.08" width="9.54" height="7.57" fill="#ea5a54" />
<rect x="45.98" y="229.41" width="9.54" height="7.57" fill="#e8463f" />
<rect x="55.28" y="229.41" width="9.54" height="7.57" fill="#e8463f" />
<rect x="64.58" y="229.41" width="9.54" height="7.57" fill="#e8463f" />
<rect x="73.88" y="229.41" width="9.54" height="7.57" fill="#e8463f" />
<rect x="83.18" y="229.41" width="9.54" height="7.57" fill="#e2332d" />
<rect x="92.48" y="229.41" width="9.54" height="7.57" fill="#e8463f" />
<rect x="166.88" y="229.41" width="9.54" height="7.57" fill="#ea6a65" />
<rect x="64.58" y="236.74" width="9.54" height="7.57" fill="#e8463f" />
<rect x="83.18" y="236.74" width="9.54" height="7.57" fill="#e2332d" />
<rect x="185.48" y="236.74" width="9.54" height="7.57" fill="#e8463f" />
<rect x="194.78" y="236.74" width="9.54" height="7.57" fill="#e8463f" />
<rect x="194.78" y="244.07" width="9.54" height="7.57" fill="#e8463f" />
<rect x="194.78" y="251.40" width="9.54" height="7.57" fill="#e8463f" />
<rect x="101.78" y="251.40" width="9.54" height="7.57" fill="#e2332d" />
<rect x="45.98" y="258.73" width="9.54" height="7.57" fill="#e8463f" />
<rect x="55.28" y="266.06" width="9.54" height="7.57" fill="#e8463f" />
<rect x="101.80" y="288.06" width="9.50" height="7.72" fill="#e8463f" />
<rect x="120.40" y="295.59" width="9.50" height="3.96" fill="#e8463f" />
<rect x="73.90" y="299.35" width="9.50" height="3.96" fill="#e8463f" />
<rect x="129.70" y="303.11" width="9.50" height="7.72" fill="#e8463f" />
<rect x="148.30" y="310.63" width="9.50" height="11.49" fill="#e8463f" />
<rect x="157.60" y="321.92" width="9.50" height="30.30" fill="#e8463f" />
<rect x="185.50" y="352.02" width="9.50" height="7.72" fill="#e8463f" />
<rect x="194.80" y="355.78" width="9.50" height="15.25" fill="#e8463f" />
<rect x="213.48" y="222.08" width="8.74" height="7.57" fill="#e98482" />
<rect x="221.98" y="222.08" width="8.74" height="7.57" fill="#eda3a1" />
<rect x="230.48" y="222.08" width="8.74" height="7.57" fill="#eda3a1" />
<rect x="238.98" y="222.08" width="8.74" height="7.57" fill="#eda3a1" />
<rect x="247.48" y="222.08" width="8.74" height="7.57" fill="#eda3a1" />
<rect x="255.98" y="222.08" width="8.74" height="7.57" fill="#e98482" />
<rect x="264.48" y="222.08" width="8.74" height="7.57" fill="#eda3a1" />
<rect x="272.98" y="222.08" width="8.74" height="7.57" fill="#eda3a1" />
<rect x="281.48" y="222.08" width="8.74" height="7.57" fill="#ecb8b6" />
<rect x="289.98" y="222.08" width="8.74" height="7.57" fill="#ecb8b6" />
<rect x="230.48" y="229.41" width="8.74" height="7.57" fill="#e8463f" />
<rect x="272.98" y="229.41" width="8.74" height="7.57" fill="#e8463f" />
<rect x="238.98" y="236.74" width="8.74" height="7.57" fill="#e8463f" />
<rect x="255.98" y="236.74" width="8.74" height="7.57" fill="#e8463f" />
<rect x="247.48" y="258.73" width="8.74" height="7.57" fill="#e8463f" />
<rect x="230.48" y="273.39" width="8.74" height="7.57" fill="#e8463f" />
<rect x="272.98" y="273.39" width="8.74" height="7.57" fill="#e8463f" />
<rect x="273.00" y="288.06" width="8.70" height="11.49" fill="#e8463f" />
<rect x="247.50" y="306.87" width="8.70" height="3.96" fill="#e8463f" />
<rect x="273.00" y="310.63" width="8.70" height="3.96" fill="#e8463f" />
<rect x="256.00" y="352.02" width="8.70" height="3.96" fill="#e8463f" />
<rect x="247.50" y="363.30" width="8.70" height="3.96" fill="#e8463f" />
<rect x="273.00" y="363.30" width="8.70" height="3.96" fill="#e8463f" />
<rect x="222.00" y="370.83" width="8.70" height="3.96" fill="#e8463f" />
<rect x="230.50" y="374.59" width="8.70" height="7.72" fill="#e8463f" />
<rect x="247.50" y="382.11" width="8.70" height="15.25" fill="#e8463f" />
<rect x="256.00" y="397.16" width="8.70" height="7.72" fill="#e8463f" />
<rect x="273.00" y="404.68" width="8.70" height="22.77" fill="#e8463f" />
<rect x="305.18" y="222.08" width="8.87" height="7.57" fill="#e9605b" />
<rect x="313.81" y="222.08" width="8.87" height="7.57" fill="#e9605b" />
<rect x="322.44" y="222.08" width="8.87" height="7.57" fill="#e8463f" />
<rect x="305.18" y="244.07" width="8.87" height="7.57" fill="#e8463f" />
<rect x="322.44" y="244.07" width="8.87" height="7.57" fill="#e8463f" />
<rect x="305.20" y="318.16" width="8.83" height="3.96" fill="#e2332d" />
<rect x="305.20" y="325.68" width="8.83" height="3.96" fill="#e2332d" />
<rect x="305.20" y="427.26" width="8.83" height="3.96" fill="#e2332d" />
<rect x="322.46" y="431.02" width="8.83" height="11.49" fill="#e8463f" />
<rect x="406.64" y="251.40" width="8.96" height="7.57" fill="#e8463f" />
<rect x="397.94" y="284.30" width="8.92" height="3.96" fill="#e8463f" />
<rect x="45.5" y="221.6" width="159.3" height="59.9" fill="none" stroke="#111" stroke-width="1.4"/>
<rect x="45.5" y="283.8" width="159.3" height="159.2" fill="none" stroke="#111" stroke-width="1.4"/>
<rect x="212.9" y="221.6" width="299.1" height="59.9" fill="none" stroke="#111" stroke-width="1.4"/>
<rect x="212.9" y="283.8" width="299.1" height="159.2" fill="none" stroke="#111" stroke-width="1.4"/>
<rect x="299.80" y="222.30" width="5.40" height="58.50" fill="#fff" />
<line x1="303.00" y1="222.30" x2="303.00" y2="280.80" stroke="#111" stroke-width="0.8" stroke-dasharray="2.2 1.4"/>
<rect x="299.80" y="284.50" width="5.40" height="157.80" fill="#fff" />
<line x1="303.00" y1="284.50" x2="303.00" y2="442.30" stroke="#111" stroke-width="0.8" stroke-dasharray="2.2 1.4"/>
<rect x="332.10" y="222.30" width="4.90" height="58.50" fill="#fff" />
<line x1="334.70" y1="222.30" x2="334.70" y2="280.80" stroke="#111" stroke-width="0.8" stroke-dasharray="2.2 1.4"/>
<rect x="332.10" y="284.50" width="4.90" height="157.80" fill="#fff" />
<line x1="334.70" y1="284.50" x2="334.70" y2="442.30" stroke="#111" stroke-width="0.8" stroke-dasharray="2.2 1.4"/>
<text x="43.20" y="228.16" font-size="6.5" text-anchor="end" fill="#222">t(14;18)</text>
<text x="43.20" y="235.50" font-size="6.5" text-anchor="end" fill="#222" font-style="italic">CREBBP</text>
<text x="43.20" y="242.82" font-size="6.5" text-anchor="end" fill="#222" font-style="italic">KMT2D</text>
<text x="43.20" y="250.16" font-size="6.5" text-anchor="end" fill="#222" font-style="italic">IRF8</text>
<text x="43.20" y="257.49" font-size="6.5" text-anchor="end" fill="#222" font-style="italic">STAT3</text>
<text x="43.20" y="264.81" font-size="6.5" text-anchor="end" fill="#222" font-style="italic">TP53</text>
<text x="43.20" y="272.14" font-size="6.5" text-anchor="end" fill="#222" font-style="italic">BCL2</text>
<text x="43.20" y="279.48" font-size="6.5" text-anchor="end" fill="#222" font-style="italic">EP300</text>
<text x="43.60" y="287.98" font-size="5.0" text-anchor="end" fill="#3a3a3a" font-style="italic">CXCR4</text>
<text x="43.60" y="291.74" font-size="5.0" text-anchor="end" fill="#3a3a3a" font-style="italic">COL24A1</text>
<text x="43.60" y="295.50" font-size="5.0" text-anchor="end" fill="#3a3a3a" font-style="italic">B2M</text>
<text x="43.60" y="299.27" font-size="5.0" text-anchor="end" fill="#3a3a3a" font-style="italic">ARID1A</text>
<text x="43.60" y="303.03" font-size="5.0" text-anchor="end" fill="#3a3a3a" font-style="italic">ATP6V1B2</text>
<text x="43.60" y="306.79" font-size="5.0" text-anchor="end" fill="#3a3a3a" font-style="italic">BCL6</text>
<text x="43.60" y="310.55" font-size="5.0" text-anchor="end" fill="#3a3a3a" font-style="italic">CARD11</text>
<text x="43.60" y="314.31" font-size="5.0" text-anchor="end" fill="#3a3a3a" font-style="italic">CCND3</text>
<text x="43.60" y="318.08" font-size="5.0" text-anchor="end" fill="#3a3a3a" font-style="italic">TNFRSF14</text>
<text x="43.60" y="321.84" font-size="5.0" text-anchor="end" fill="#3a3a3a" font-style="italic">CD58</text>
<text x="43.60" y="325.60" font-size="5.0" text-anchor="end" fill="#3a3a3a" font-style="italic">CIITA</text>
<text x="43.60" y="329.36" font-size="5.0" text-anchor="end" fill="#3a3a3a" font-style="italic">MYD88</text>
<text x="43.60" y="333.12" font-size="5.0" text-anchor="end" fill="#3a3a3a" font-style="italic">EZH2</text>
<text x="43.60" y="336.89" font-size="5.0" text-anchor="end" fill="#3a3a3a" font-style="italic">FOXO1</text>
<text x="43.60" y="340.65" font-size="5.0" text-anchor="end" fill="#3a3a3a" font-style="italic">PRDM1</text>
<text x="43.60" y="344.41" font-size="5.0" text-anchor="end" fill="#3a3a3a" font-style="italic">PCLO</text>
<text x="43.60" y="348.17" font-size="5.0" text-anchor="end" fill="#3a3a3a" font-style="italic">MEF2B</text>
<text x="43.60" y="351.93" font-size="5.0" text-anchor="end" fill="#3a3a3a" font-style="italic">MKI67</text>
<text x="43.60" y="355.70" font-size="5.0" text-anchor="end" fill="#3a3a3a" font-style="italic">NOTCH2</text>
<text x="43.60" y="359.46" font-size="5.0" text-anchor="end" fill="#3a3a3a" font-style="italic">NFATC1</text>
<text x="43.60" y="363.22" font-size="5.0" text-anchor="end" fill="#3a3a3a" font-style="italic">HIST1H1E</text>
<text x="43.60" y="366.98" font-size="5.0" text-anchor="end" fill="#3a3a3a" font-style="italic">PIM1</text>
<text x="43.60" y="370.74" font-size="5.0" text-anchor="end" fill="#3a3a3a" font-style="italic">SOCS1</text>
<text x="43.60" y="374.51" font-size="5.0" text-anchor="end" fill="#3a3a3a" font-style="italic">ADAMTS1</text>
<text x="43.60" y="378.27" font-size="5.0" text-anchor="end" fill="#3a3a3a" font-style="italic">ARID5B</text>
<text x="43.60" y="382.03" font-size="5.0" text-anchor="end" fill="#3a3a3a" font-style="italic">BTG1</text>
<text x="43.60" y="385.79" font-size="5.0" text-anchor="end" fill="#3a3a3a" font-style="italic">DTX1</text>
<text x="43.60" y="389.55" font-size="5.0" text-anchor="end" fill="#3a3a3a" font-style="italic">GNA13</text>
<text x="43.60" y="393.32" font-size="5.0" text-anchor="end" fill="#3a3a3a" font-style="italic">IRF4</text>
<text x="43.60" y="397.08" font-size="5.0" text-anchor="end" fill="#3a3a3a" font-style="italic">CTNNB1</text>
<text x="43.60" y="400.84" font-size="5.0" text-anchor="end" fill="#3a3a3a" font-style="italic">FAS</text>
<text x="43.60" y="404.60" font-size="5.0" text-anchor="end" fill="#3a3a3a" font-style="italic">FOXP1</text>
<text x="43.60" y="408.36" font-size="5.0" text-anchor="end" fill="#3a3a3a" font-style="italic">KLHL6</text>
<text x="43.60" y="412.13" font-size="5.0" text-anchor="end" fill="#3a3a3a" font-style="italic">MAPK1</text>
<text x="43.60" y="415.89" font-size="5.0" text-anchor="end" fill="#3a3a3a" font-style="italic">RHOA</text>
<text x="43.60" y="419.65" font-size="5.0" text-anchor="end" fill="#3a3a3a" font-style="italic">STAT6</text>
<text x="43.60" y="423.41" font-size="5.0" text-anchor="end" fill="#3a3a3a" font-style="italic">CD79B</text>
<text x="43.60" y="427.17" font-size="5.0" text-anchor="end" fill="#3a3a3a" font-style="italic">CSMD1</text>
<text x="43.60" y="430.94" font-size="5.0" text-anchor="end" fill="#3a3a3a" font-style="italic">TBL1XR1</text>
<text x="43.60" y="434.70" font-size="5.0" text-anchor="end" fill="#3a3a3a" font-style="italic">POU2F2</text>
<text x="43.60" y="438.46" font-size="5.0" text-anchor="end" fill="#3a3a3a" font-style="italic">LRRTM4</text>
<text x="43.60" y="442.22" font-size="5.0" text-anchor="end" fill="#3a3a3a" font-style="italic">CD274</text>
<text x="52.85" y="446.30" font-size="6.15" text-anchor="end" fill="#151515" transform="rotate(-90 52.85 446.30)">188</text>
<text x="62.15" y="446.30" font-size="6.15" text-anchor="end" fill="#151515" transform="rotate(-90 62.15 446.30)">196</text>
<text x="71.45" y="446.30" font-size="6.15" text-anchor="end" fill="#151515" transform="rotate(-90 71.45 446.30)">186</text>
<text x="80.75" y="446.30" font-size="6.15" text-anchor="end" fill="#151515" transform="rotate(-90 80.75 446.30)">192</text>
<text x="90.05" y="446.30" font-size="6.15" text-anchor="end" fill="#151515" transform="rotate(-90 90.05 446.30)">193</text>
<text x="99.35" y="446.30" font-size="6.15" text-anchor="end" fill="#151515" transform="rotate(-90 99.35 446.30)">190</text>
<text x="108.65" y="446.30" font-size="6.15" text-anchor="end" fill="#151515" transform="rotate(-90 108.65 446.30)">189</text>
<text x="117.95" y="446.30" font-size="6.15" text-anchor="end" fill="#151515" transform="rotate(-90 117.95 446.30)">187</text>
<text x="127.25" y="446.30" font-size="6.15" text-anchor="end" fill="#151515" transform="rotate(-90 127.25 446.30)">191</text>
<text x="136.55" y="446.30" font-size="6.15" text-anchor="end" fill="#151515" transform="rotate(-90 136.55 446.30)">194</text>
<text x="145.85" y="446.30" font-size="6.15" text-anchor="end" fill="#151515" transform="rotate(-90 145.85 446.30)">195</text>
<text x="155.15" y="446.30" font-size="6.15" text-anchor="end" fill="#151515" transform="rotate(-90 155.15 446.30)">197</text>
<text x="164.45" y="446.30" font-size="6.15" text-anchor="end" fill="#151515" transform="rotate(-90 164.45 446.30)">204</text>
<text x="173.75" y="446.30" font-size="6.15" text-anchor="end" fill="#151515" transform="rotate(-90 173.75 446.30)">205</text>
<text x="183.05" y="446.30" font-size="6.15" text-anchor="end" fill="#151515" transform="rotate(-90 183.05 446.30)">206</text>
<text x="192.35" y="446.30" font-size="6.15" text-anchor="end" fill="#151515" transform="rotate(-90 192.35 446.30)">207</text>
<text x="201.65" y="446.30" font-size="6.15" text-anchor="end" fill="#151515" transform="rotate(-90 201.65 446.30)">208</text>
<text x="219.95" y="446.30" font-size="6.15" text-anchor="end" fill="#151515" transform="rotate(-90 219.95 446.30)">198</text>
<text x="228.45" y="446.30" font-size="6.15" text-anchor="end" fill="#151515" transform="rotate(-90 228.45 446.30)">199</text>
<text x="236.95" y="446.30" font-size="6.15" text-anchor="end" fill="#151515" transform="rotate(-90 236.95 446.30)">200</text>
<text x="245.45" y="446.30" font-size="6.15" text-anchor="end" fill="#151515" transform="rotate(-90 245.45 446.30)">201</text>
<text x="253.95" y="446.30" font-size="6.15" text-anchor="end" fill="#151515" transform="rotate(-90 253.95 446.30)">202</text>
<text x="262.45" y="446.30" font-size="6.15" text-anchor="end" fill="#151515" transform="rotate(-90 262.45 446.30)">203</text>
<text x="270.95" y="446.30" font-size="6.15" text-anchor="end" fill="#151515" transform="rotate(-90 270.95 446.30)">002</text>
<text x="279.45" y="446.30" font-size="6.15" text-anchor="end" fill="#151515" transform="rotate(-90 279.45 446.30)">003</text>
<text x="287.95" y="446.30" font-size="6.15" text-anchor="end" fill="#151515" transform="rotate(-90 287.95 446.30)">006</text>
<text x="296.45" y="446.30" font-size="6.15" text-anchor="end" fill="#151515" transform="rotate(-90 296.45 446.30)">008</text>
<text x="311.72" y="446.30" font-size="6.15" text-anchor="end" fill="#151515" transform="rotate(-90 311.72 446.30)">209</text>
<text x="320.35" y="446.30" font-size="6.15" text-anchor="end" fill="#151515" transform="rotate(-90 320.35 446.30)">210</text>
<text x="328.98" y="446.30" font-size="6.15" text-anchor="end" fill="#151515" transform="rotate(-90 328.98 446.30)">211</text>
<text x="343.46" y="446.30" font-size="6.15" text-anchor="end" fill="#151515" transform="rotate(-90 343.46 446.30)">78</text>
<text x="352.18" y="446.30" font-size="6.15" text-anchor="end" fill="#151515" transform="rotate(-90 352.18 446.30)">79</text>
<text x="360.90" y="446.30" font-size="6.15" text-anchor="end" fill="#151515" transform="rotate(-90 360.90 446.30)">80</text>
<text x="369.62" y="446.30" font-size="6.15" text-anchor="end" fill="#151515" transform="rotate(-90 369.62 446.30)">81</text>
<text x="378.34" y="446.30" font-size="6.15" text-anchor="end" fill="#151515" transform="rotate(-90 378.34 446.30)">82</text>
<text x="387.06" y="446.30" font-size="6.15" text-anchor="end" fill="#151515" transform="rotate(-90 387.06 446.30)">83</text>
<text x="395.78" y="446.30" font-size="6.15" text-anchor="end" fill="#151515" transform="rotate(-90 395.78 446.30)">84</text>
<text x="404.50" y="446.30" font-size="6.15" text-anchor="end" fill="#151515" transform="rotate(-90 404.50 446.30)">85</text>
<text x="413.22" y="446.30" font-size="6.15" text-anchor="end" fill="#151515" transform="rotate(-90 413.22 446.30)">86</text>
<text x="421.94" y="446.30" font-size="6.15" text-anchor="end" fill="#151515" transform="rotate(-90 421.94 446.30)">87</text>
<text x="430.66" y="446.30" font-size="6.15" text-anchor="end" fill="#151515" transform="rotate(-90 430.66 446.30)">88</text>
<text x="439.38" y="446.30" font-size="6.15" text-anchor="end" fill="#151515" transform="rotate(-90 439.38 446.30)">89</text>
<text x="448.10" y="446.30" font-size="6.15" text-anchor="end" fill="#151515" transform="rotate(-90 448.10 446.30)">90</text>
<text x="456.82" y="446.30" font-size="6.15" text-anchor="end" fill="#151515" transform="rotate(-90 456.82 446.30)">91</text>
<text x="465.54" y="446.30" font-size="6.15" text-anchor="end" fill="#151515" transform="rotate(-90 465.54 446.30)">92</text>
<text x="474.26" y="446.30" font-size="6.15" text-anchor="end" fill="#151515" transform="rotate(-90 474.26 446.30)">93</text>
<text x="482.98" y="446.30" font-size="6.15" text-anchor="end" fill="#151515" transform="rotate(-90 482.98 446.30)">59</text>
<text x="491.70" y="446.30" font-size="6.15" text-anchor="end" fill="#151515" transform="rotate(-90 491.70 446.30)">60</text>
<text x="500.42" y="446.30" font-size="6.15" text-anchor="end" fill="#151515" transform="rotate(-90 500.42 446.30)">61</text>
<text x="509.14" y="446.30" font-size="6.15" text-anchor="end" fill="#151515" transform="rotate(-90 509.14 446.30)">62</text>
<text x="34.20" y="466.60" font-size="7.3" fill="#222">Log<tspan font-size="5.2" dy="1.5">10</tspan><tspan dy="-1.5"> frequency</tspan></text>
<defs><linearGradient id="lg" x1="0" x2="1" y1="0" y2="0"><stop offset="0" stop-color="#ddd3d3"/><stop offset="0.35" stop-color="#eb9a98"/><stop offset="0.7" stop-color="#e8514b"/><stop offset="1" stop-color="#e21f1f"/></linearGradient></defs>
<rect x="90.8" y="460.7" width="92.2" height="6.8" fill="url(#lg)" stroke="#111" stroke-width="0.9"/>
<line x1="109.24" y1="460.70" x2="109.24" y2="467.50" stroke="#111" stroke-width="0.7" />
<line x1="127.68" y1="460.70" x2="127.68" y2="467.50" stroke="#111" stroke-width="0.7" />
<line x1="146.12" y1="460.70" x2="146.12" y2="467.50" stroke="#111" stroke-width="0.7" />
<line x1="164.56" y1="460.70" x2="164.56" y2="467.50" stroke="#111" stroke-width="0.7" />
<text x="90.60" y="475.20" font-size="7.2" text-anchor="middle" fill="#222">−6</text>
<text x="109.04" y="475.20" font-size="7.2" text-anchor="middle" fill="#222">−5</text>
<text x="127.48" y="475.20" font-size="7.2" text-anchor="middle" fill="#222">−4</text>
<text x="145.92" y="475.20" font-size="7.2" text-anchor="middle" fill="#222">−3</text>
<text x="164.36" y="475.20" font-size="7.2" text-anchor="middle" fill="#222">−2</text>
<text x="182.80" y="475.20" font-size="7.2" text-anchor="middle" fill="#222">−1</text>
<rect x="191.5" y="461.4" width="6.8" height="6.9" fill="#dcdcdc" stroke="#555" stroke-width="0.8"/>
<text x="202.00" y="467.70" font-size="7.55" fill="#222">Not detected</text>
</g>
<g id="panelCDE">
<text x="3.00" y="518.20" font-size="10.1" fill="#111" font-weight="bold">C</text>
<line x1="38.60" y1="522.40" x2="38.60" y2="669.40" stroke="#222" stroke-width="0.7" />
<line x1="38.30" y1="669.30" x2="112.80" y2="669.30" stroke="#222" stroke-width="0.7" />
<line x1="36.90" y1="662.60" x2="38.60" y2="662.60" stroke="#222" stroke-width="0.7" />
<text x="36.00" y="665.20" font-size="7.3" text-anchor="end" fill="#222">0</text>
<line x1="36.90" y1="627.65" x2="38.60" y2="627.65" stroke="#222" stroke-width="0.7" />
<text x="36.00" y="630.25" font-size="7.3" text-anchor="end" fill="#222">5</text>
<line x1="36.90" y1="592.70" x2="38.60" y2="592.70" stroke="#222" stroke-width="0.7" />
<text x="36.00" y="595.30" font-size="7.3" text-anchor="end" fill="#222">10</text>
<line x1="36.90" y1="557.75" x2="38.60" y2="557.75" stroke="#222" stroke-width="0.7" />
<text x="36.00" y="560.35" font-size="7.3" text-anchor="end" fill="#222">15</text>
<line x1="36.90" y1="522.80" x2="38.60" y2="522.80" stroke="#222" stroke-width="0.7" />
<text x="36.00" y="525.40" font-size="7.3" text-anchor="end" fill="#222">20</text>
<text x="21.60" y="596.20" font-size="7.45" text-anchor="middle" fill="#222" transform="rotate(-90 21.60 596.20)">Mutation count</text>
<clipPath id="cv1"><path d="M50.70,598.99 L50.71,599.36 L50.74,599.81 L50.86,600.48 L51.07,601.44 L51.37,602.60 L51.68,603.83 L51.99,605.03 L52.29,606.20 L52.55,607.32 L52.78,608.41 L52.98,609.47 L53.11,610.52 L53.19,611.59 L53.23,612.78 L53.24,614.27 L53.25,616.16 L53.25,618.35 L53.25,620.66 L53.25,622.98 L53.25,625.23 L53.25,627.32 L53.25,629.18 L53.25,630.80 L53.24,632.16 L53.23,633.25 L53.21,634.13 L53.16,634.88 L53.09,635.54 L52.97,636.17 L52.77,636.79 L52.50,637.45 L52.15,638.15 L51.75,638.88 L51.31,639.64 L50.81,640.45 L50.20,641.34 L49.45,642.32 L48.63,643.39 L47.84,644.56 L47.15,645.81 L46.62,647.13 L46.34,648.48 L46.35,649.84 L46.62,651.22 L47.04,652.67 L47.56,654.19 L48.11,655.73 L48.58,657.14 L48.91,658.38 L49.11,659.47 L49.22,660.50 L49.28,661.53 L49.30,662.55 L49.30,663.58 L57.50,663.58 L57.50,662.55 L57.52,661.53 L57.58,660.50 L57.69,659.47 L57.89,658.38 L58.22,657.14 L58.69,655.73 L59.24,654.19 L59.76,652.67 L60.18,651.22 L60.45,649.84 L60.46,648.48 L60.18,647.13 L59.65,645.81 L58.96,644.56 L58.17,643.39 L57.35,642.32 L56.60,641.34 L55.99,640.45 L55.49,639.64 L55.05,638.88 L54.65,638.15 L54.30,637.45 L54.02,636.79 L53.83,636.17 L53.71,635.54 L53.64,634.88 L53.59,634.13 L53.57,633.25 L53.56,632.16 L53.55,630.80 L53.55,629.18 L53.55,627.32 L53.55,625.23 L53.55,622.98 L53.55,620.66 L53.55,618.35 L53.55,616.16 L53.56,614.27 L53.57,612.78 L53.61,611.59 L53.69,610.52 L53.82,609.47 L54.02,608.41 L54.25,607.32 L54.51,606.20 L54.81,605.03 L55.12,603.83 L55.43,602.60 L55.73,601.44 L55.94,600.48 L56.06,599.81 L56.09,599.36 L56.10,598.99Z"/></clipPath>
<path d="M50.70,598.99 L50.71,599.36 L50.74,599.81 L50.86,600.48 L51.07,601.44 L51.37,602.60 L51.68,603.83 L51.99,605.03 L52.29,606.20 L52.55,607.32 L52.78,608.41 L52.98,609.47 L53.11,610.52 L53.19,611.59 L53.23,612.78 L53.24,614.27 L53.25,616.16 L53.25,618.35 L53.25,620.66 L53.25,622.98 L53.25,625.23 L53.25,627.32 L53.25,629.18 L53.25,630.80 L53.24,632.16 L53.23,633.25 L53.21,634.13 L53.16,634.88 L53.09,635.54 L52.97,636.17 L52.77,636.79 L52.50,637.45 L52.15,638.15 L51.75,638.88 L51.31,639.64 L50.81,640.45 L50.20,641.34 L49.45,642.32 L48.63,643.39 L47.84,644.56 L47.15,645.81 L46.62,647.13 L46.34,648.48 L46.35,649.84 L46.62,651.22 L47.04,652.67 L47.56,654.19 L48.11,655.73 L48.58,657.14 L48.91,658.38 L49.11,659.47 L49.22,660.50 L49.28,661.53 L49.30,662.55 L49.30,663.58 L57.50,663.58 L57.50,662.55 L57.52,661.53 L57.58,660.50 L57.69,659.47 L57.89,658.38 L58.22,657.14 L58.69,655.73 L59.24,654.19 L59.76,652.67 L60.18,651.22 L60.45,649.84 L60.46,648.48 L60.18,647.13 L59.65,645.81 L58.96,644.56 L58.17,643.39 L57.35,642.32 L56.60,641.34 L55.99,640.45 L55.49,639.64 L55.05,638.88 L54.65,638.15 L54.30,637.45 L54.02,636.79 L53.83,636.17 L53.71,635.54 L53.64,634.88 L53.59,634.13 L53.57,633.25 L53.56,632.16 L53.55,630.80 L53.55,629.18 L53.55,627.32 L53.55,625.23 L53.55,622.98 L53.55,620.66 L53.55,618.35 L53.55,616.16 L53.56,614.27 L53.57,612.78 L53.61,611.59 L53.69,610.52 L53.82,609.47 L54.02,608.41 L54.25,607.32 L54.51,606.20 L54.81,605.03 L55.12,603.83 L55.43,602.60 L55.73,601.44 L55.94,600.48 L56.06,599.81 L56.09,599.36 L56.10,598.99Z" fill="#e5322c" stroke="#3a1210" stroke-width="0.5"/>
<line x1="53.40" y1="609.48" x2="53.40" y2="636.74" stroke="#2a1010" stroke-width="0.7" />
<g clip-path="url(#cv1)"><rect x="44.40" y="658.00" width="18.00" height="2.20" fill="#f2918d" /><rect x="44.40" y="651.01" width="18.00" height="2.20" fill="#f2918d" /><rect x="44.40" y="644.02" width="18.00" height="2.20" fill="#f2918d" /><line x1="44.40" y1="662.60" x2="62.40" y2="662.60" stroke="#c21a16" stroke-width="0.8" stroke-dasharray="1.2 0.8"/><line x1="44.40" y1="655.61" x2="62.40" y2="655.61" stroke="#c21a16" stroke-width="0.8" stroke-dasharray="1.2 0.8"/><line x1="44.40" y1="648.62" x2="62.40" y2="648.62" stroke="#c21a16" stroke-width="0.8" stroke-dasharray="1.2 0.8"/><line x1="44.40" y1="641.63" x2="62.40" y2="641.63" stroke="#c21a16" stroke-width="0.8" stroke-dasharray="1.2 0.8"/><rect x="52.10" y="601.09" width="2.60" height="3.40" fill="#f5b0ad" /></g>
<path d="M75.10,569.98 L74.97,570.42 L74.85,570.87 L74.73,571.39 L74.64,572.10 L74.56,573.05 L74.50,574.20 L74.47,575.49 L74.48,576.95 L74.55,578.63 L74.65,580.49 L74.76,582.52 L74.84,584.80 L74.88,587.41 L74.90,590.26 L74.89,593.18 L74.86,596.03 L74.82,598.77 L74.75,601.43 L74.67,604.06 L74.59,606.68 L74.50,609.30 L74.40,611.92 L74.28,614.50 L74.14,617.00 L73.96,619.39 L73.75,621.70 L73.54,623.96 L73.35,626.17 L73.19,628.33 L73.05,630.44 L72.92,632.50 L72.76,634.48 L72.59,636.34 L72.40,638.13 L72.17,639.88 L71.91,641.63 L71.57,643.38 L71.19,645.12 L70.78,646.83 L70.34,648.46 L69.86,649.97 L69.35,651.41 L68.88,652.77 L68.50,654.05 L68.25,655.22 L68.11,656.30 L68.02,657.36 L67.98,658.41 L68.00,659.45 L68.05,660.49 L68.13,661.45 L68.22,662.23 L68.33,662.76 L68.45,663.11 L68.57,663.39 L68.70,663.65 L82.50,663.65 L82.62,663.39 L82.75,663.11 L82.87,662.76 L82.98,662.23 L83.07,661.45 L83.15,660.49 L83.20,659.45 L83.22,658.41 L83.18,657.36 L83.09,656.30 L82.95,655.22 L82.70,654.05 L82.32,652.77 L81.85,651.41 L81.34,649.97 L80.86,648.46 L80.42,646.83 L80.01,645.12 L79.62,643.38 L79.29,641.63 L79.02,639.88 L78.80,638.13 L78.61,636.34 L78.44,634.48 L78.28,632.50 L78.15,630.44 L78.01,628.33 L77.85,626.17 L77.66,623.96 L77.45,621.70 L77.24,619.39 L77.06,617.00 L76.92,614.50 L76.80,611.92 L76.70,609.30 L76.61,606.68 L76.53,604.06 L76.45,601.43 L76.38,598.77 L76.34,596.03 L76.31,593.18 L76.30,590.26 L76.32,587.41 L76.36,584.80 L76.44,582.52 L76.55,580.49 L76.65,578.63 L76.72,576.95 L76.73,575.49 L76.70,574.20 L76.64,573.05 L76.56,572.10 L76.47,571.39 L76.35,570.87 L76.22,570.42 L76.10,569.98Z" fill="#dcdcdc" stroke="#333" stroke-width="0.6"/>
<line x1="68.30" y1="655.61" x2="82.90" y2="655.61" stroke="#333" stroke-width="1.0" />
<line x1="73.30" y1="627.65" x2="77.90" y2="627.65" stroke="#333" stroke-width="0.7" stroke-dasharray="0.8 0.6"/>
<line x1="68.40" y1="662.60" x2="82.80" y2="662.60" stroke="#444" stroke-width="0.6" stroke-dasharray="0.8 0.6"/>
<circle cx="69.6" cy="662.60" r="0.9" fill="#bbb" stroke="#444" stroke-width="0.4"/>
<circle cx="72.6" cy="662.60" r="0.9" fill="#bbb" stroke="#444" stroke-width="0.4"/>
<circle cx="75.6" cy="662.60" r="0.9" fill="#bbb" stroke="#444" stroke-width="0.4"/>
<circle cx="78.6" cy="662.60" r="0.9" fill="#bbb" stroke="#444" stroke-width="0.4"/>
<circle cx="81.6" cy="662.60" r="0.9" fill="#bbb" stroke="#444" stroke-width="0.4"/>
<circle cx="71.6" cy="655.61" r="0.8" fill="#bbb" stroke="#444" stroke-width="0.4"/>
<circle cx="75.6" cy="655.61" r="0.8" fill="#bbb" stroke="#444" stroke-width="0.4"/>
<circle cx="79.6" cy="655.61" r="0.8" fill="#bbb" stroke="#444" stroke-width="0.4"/>
<circle cx="75.6" cy="648.62" r="0.8" fill="#ccc" stroke="#555" stroke-width="0.4"/>
<circle cx="75.6" cy="641.63" r="0.8" fill="#ccc" stroke="#555" stroke-width="0.4"/>
<circle cx="75.6" cy="634.64" r="0.8" fill="#ccc" stroke="#555" stroke-width="0.4"/>
<circle cx="75.6" cy="627.65" r="0.8" fill="#ccc" stroke="#555" stroke-width="0.4"/>
<circle cx="75.6" cy="613.67" r="0.8" fill="#ccc" stroke="#555" stroke-width="0.4"/>
<circle cx="75.6" cy="606.68" r="0.8" fill="#ccc" stroke="#555" stroke-width="0.4"/>
<circle cx="75.6" cy="592.70" r="0.8" fill="#ccc" stroke="#555" stroke-width="0.4"/>
<circle cx="75.6" cy="571.73" r="0.8" fill="#ccc" stroke="#555" stroke-width="0.4"/>
<rect x="90.30" y="661.40" width="14.40" height="2.40" fill="#111" rx="1.1"/>
<line x1="97.50" y1="662.60" x2="97.50" y2="655.61" stroke="#111" stroke-width="0.7" />
<circle cx="97.5" cy="655.61" r="1.3" fill="#111"/>
<line x1="53.40" y1="669.30" x2="53.40" y2="671.60" stroke="#222" stroke-width="0.7" />
<line x1="75.60" y1="669.30" x2="75.60" y2="671.60" stroke="#222" stroke-width="0.7" />
<line x1="97.50" y1="669.30" x2="97.50" y2="671.60" stroke="#222" stroke-width="0.7" />
<path d="M53.4,567.4 V565.3 H76.3 V567.4" fill="none" stroke="#222" stroke-width="0.7"/>
<text x="65.10" y="562.80" font-size="7.3" text-anchor="middle" fill="#222">ns</text>
<path d="M53.4,559.5 V557.3 H98.5 V559.5" fill="none" stroke="#222" stroke-width="0.7"/>
<text x="53.80" y="555.00" font-size="7.3" fill="#222"><tspan font-style="italic">P</tspan> &lt; 0.0001</text>
<path d="M76.0,548.0 V545.8 H98.5 V548.0" fill="none" stroke="#222" stroke-width="0.7"/>
<text x="71.90" y="542.90" font-size="7.3" fill="#222"><tspan font-style="italic">P</tspan> = 0.004</text>
<text x="55.30" y="676.20" font-size="7.3" text-anchor="end" fill="#222" transform="rotate(-45 55.30 676.20)">EPIC</text><text x="58.50" y="682.00" font-size="7.3" text-anchor="end" fill="#222" transform="rotate(-45 58.50 682.00)">FL cases</text>
<text x="77.20" y="676.20" font-size="7.3" text-anchor="end" fill="#222" transform="rotate(-45 77.20 676.20)">EPIC</text><text x="81.60" y="683.90" font-size="7.3" text-anchor="end" fill="#222" transform="rotate(-45 81.60 683.90)">controls</text>
<text x="98.90" y="678.10" font-size="7.3" text-anchor="end" fill="#222" transform="rotate(-45 98.90 678.10)">Blood</text><text x="103.70" y="683.90" font-size="7.3" text-anchor="end" fill="#222" transform="rotate(-45 103.70 683.90)">donor</text><text x="111.40" y="686.80" font-size="7.3" text-anchor="end" fill="#222" transform="rotate(-45 111.40 686.80)">controls</text>
<text x="131.50" y="518.20" font-size="10.1" fill="#111" font-weight="bold">D</text>
<line x1="164.60" y1="522.40" x2="164.60" y2="669.40" stroke="#222" stroke-width="0.7" />
<line x1="164.30" y1="669.30" x2="219.40" y2="669.30" stroke="#222" stroke-width="0.7" />
<line x1="162.90" y1="522.40" x2="164.60" y2="522.40" stroke="#222" stroke-width="0.7" />
<text x="162.00" y="525.00" font-size="7.3" text-anchor="end" fill="#222">10</text>
<line x1="162.90" y1="571.10" x2="164.60" y2="571.10" stroke="#222" stroke-width="0.7" />
<text x="162.00" y="573.70" font-size="7.3" text-anchor="end" fill="#222">1</text>
<line x1="162.90" y1="619.80" x2="164.60" y2="619.80" stroke="#222" stroke-width="0.7" />
<text x="162.00" y="622.40" font-size="7.3" text-anchor="end" fill="#222">0.1</text>
<line x1="162.90" y1="668.50" x2="164.60" y2="668.50" stroke="#222" stroke-width="0.7" />
<text x="162.00" y="671.10" font-size="7.3" text-anchor="end" fill="#222">0.01</text>
<text x="147.90" y="596.00" font-size="7.3" text-anchor="middle" fill="#222" transform="rotate(-90 147.90 596.00)">Mutation AF (log<tspan font-size="4.8" dy="1.4">10</tspan><tspan dy="-1.4">)</tspan></text>
<path d="M180.15,554.60 L180.15,557.20 L180.15,559.79 L180.14,562.34 L180.12,564.78 L180.08,567.07 L180.02,569.23 L179.95,571.25 L179.84,573.03 L179.68,574.50 L179.50,575.73 L179.29,576.86 L179.06,577.94 L178.82,578.98 L178.55,580.00 L178.25,581.03 L177.91,582.12 L177.50,583.28 L177.05,584.50 L176.61,585.75 L176.24,587.00 L175.96,588.25 L175.76,589.50 L175.59,590.77 L175.45,592.06 L175.34,593.39 L175.25,594.75 L175.15,596.09 L175.02,597.38 L174.83,598.59 L174.60,599.75 L174.34,600.89 L174.06,602.06 L173.77,603.27 L173.45,604.50 L173.16,605.70 L172.93,606.82 L172.78,607.83 L172.71,608.74 L172.68,609.62 L172.71,610.50 L172.80,611.38 L172.96,612.25 L173.15,613.14 L173.38,614.06 L173.67,615.02 L174.00,616.01 L174.35,617.03 L174.71,618.12 L175.08,619.28 L175.45,620.50 L175.81,621.75 L176.15,623.00 L176.46,624.25 L176.75,625.50 L177.02,626.75 L177.28,628.00 L177.52,629.25 L177.75,630.50 L177.97,631.73 L178.16,632.94 L178.34,634.11 L178.50,635.24 L178.64,636.30 L178.78,637.22 L178.89,637.95 L179.00,638.54 L179.11,639.03 L179.24,639.45 L179.38,639.76 L179.55,639.99 L179.73,640.20 L179.90,640.40 L180.70,640.40 L180.88,640.20 L181.05,639.99 L181.22,639.76 L181.36,639.45 L181.49,639.03 L181.60,638.54 L181.71,637.95 L181.82,637.22 L181.96,636.30 L182.10,635.24 L182.26,634.11 L182.44,632.94 L182.63,631.73 L182.85,630.50 L183.08,629.25 L183.32,628.00 L183.58,626.75 L183.85,625.50 L184.14,624.25 L184.45,623.00 L184.79,621.75 L185.15,620.50 L185.52,619.28 L185.89,618.12 L186.25,617.03 L186.60,616.01 L186.93,615.02 L187.22,614.06 L187.45,613.14 L187.64,612.25 L187.80,611.38 L187.89,610.50 L187.92,609.62 L187.89,608.74 L187.82,607.83 L187.67,606.82 L187.44,605.70 L187.15,604.50 L186.83,603.27 L186.54,602.06 L186.26,600.89 L186.00,599.75 L185.77,598.59 L185.58,597.38 L185.45,596.09 L185.35,594.75 L185.26,593.39 L185.15,592.06 L185.01,590.77 L184.84,589.50 L184.64,588.25 L184.36,587.00 L183.99,585.75 L183.55,584.50 L183.10,583.28 L182.69,582.12 L182.35,581.03 L182.05,580.00 L181.78,578.98 L181.54,577.94 L181.31,576.86 L181.10,575.73 L180.92,574.50 L180.76,573.03 L180.65,571.25 L180.58,569.23 L180.52,567.07 L180.48,564.78 L180.46,562.34 L180.45,559.79 L180.45,557.20 L180.45,554.60Z" fill="#f29490" stroke="#dc2420" stroke-width="0.6"/>
<line x1="180.30" y1="555.00" x2="180.30" y2="577.00" stroke="#3a1512" stroke-width="0.6" />
<circle cx="180.56" cy="592.34" r="1.2" fill="#e4231d"/>
<circle cx="180.94" cy="596.13" r="1.2" fill="#e4231d"/>
<circle cx="177.06" cy="602.06" r="1.2" fill="#e4231d"/>
<circle cx="181.08" cy="580.61" r="1.2" fill="#e4231d"/>
<circle cx="178.72" cy="593.02" r="1.2" fill="#e4231d"/>
<circle cx="180.10" cy="618.06" r="1.2" fill="#e4231d"/>
<circle cx="180.09" cy="608.14" r="1.2" fill="#e4231d"/>
<circle cx="177.66" cy="602.38" r="1.2" fill="#e4231d"/>
<circle cx="183.07" cy="602.28" r="1.2" fill="#e4231d"/>
<circle cx="181.95" cy="599.75" r="1.2" fill="#e4231d"/>
<circle cx="176.89" cy="603.19" r="1.2" fill="#e4231d"/>
<circle cx="181.08" cy="605.58" r="1.2" fill="#e4231d"/>
<circle cx="177.47" cy="594.26" r="1.2" fill="#e4231d"/>
<circle cx="180.05" cy="609.25" r="1.2" fill="#e4231d"/>
<circle cx="183.41" cy="604.45" r="1.2" fill="#e4231d"/>
<circle cx="183.74" cy="604.32" r="1.2" fill="#e4231d"/>
<circle cx="182.16" cy="596.76" r="1.2" fill="#e4231d"/>
<circle cx="183.07" cy="597.97" r="1.2" fill="#e4231d"/>
<circle cx="176.60" cy="609.79" r="1.2" fill="#e4231d"/>
<circle cx="178.80" cy="588.60" r="1.2" fill="#e4231d"/>
<circle cx="179.78" cy="614.55" r="1.2" fill="#e4231d"/>
<circle cx="178.81" cy="602.08" r="1.2" fill="#e4231d"/>
<circle cx="179.53" cy="599.40" r="1.2" fill="#e4231d"/>
<circle cx="180.82" cy="595.63" r="1.2" fill="#e4231d"/>
<circle cx="183.21" cy="601.09" r="1.2" fill="#e4231d"/>
<circle cx="183.69" cy="603.46" r="1.2" fill="#e4231d"/>
<circle cx="184.78" cy="608.89" r="1.2" fill="#e4231d"/>
<circle cx="177.67" cy="603.19" r="1.2" fill="#e4231d"/>
<circle cx="184.55" cy="609.05" r="1.2" fill="#e4231d"/>
<circle cx="180.93" cy="610.95" r="1.2" fill="#e4231d"/>
<circle cx="177.94" cy="604.31" r="1.2" fill="#e4231d"/>
<circle cx="180.97" cy="607.97" r="1.2" fill="#e4231d"/>
<circle cx="177.68" cy="593.79" r="1.2" fill="#e4231d"/>
<circle cx="184.77" cy="608.79" r="1.2" fill="#e4231d"/>
<circle cx="181.73" cy="586.36" r="1.2" fill="#e4231d"/>
<circle cx="178.13" cy="597.15" r="1.2" fill="#e4231d"/>
<circle cx="181.92" cy="594.05" r="1.2" fill="#e4231d"/>
<circle cx="176.12" cy="609.54" r="1.2" fill="#e4231d"/>
<circle cx="176.94" cy="601.79" r="1.2" fill="#e4231d"/>
<circle cx="178.91" cy="604.44" r="1.2" fill="#e4231d"/>
<circle cx="184.72" cy="609.88" r="1.2" fill="#e4231d"/>
<circle cx="183.66" cy="599.36" r="1.2" fill="#e4231d"/>
<circle cx="177.74" cy="594.50" r="1.2" fill="#e4231d"/>
<circle cx="176.88" cy="601.45" r="1.2" fill="#e4231d"/>
<circle cx="179.77" cy="590.97" r="1.2" fill="#e4231d"/>
<circle cx="177.77" cy="601.70" r="1.2" fill="#e4231d"/>
<circle cx="181.56" cy="583.48" r="1.2" fill="#e4231d"/>
<circle cx="183.08" cy="594.62" r="1.2" fill="#e4231d"/>
<circle cx="179.17" cy="610.57" r="1.2" fill="#e4231d"/>
<circle cx="180.43" cy="598.34" r="1.2" fill="#e4231d"/>
<circle cx="181.03" cy="602.50" r="1.2" fill="#e4231d"/>
<circle cx="181.15" cy="600.53" r="1.2" fill="#e4231d"/>
<circle cx="180.30" cy="554.60" r="1.2" fill="#e4231d"/>
<circle cx="180.30" cy="568.50" r="1.2" fill="#e4231d"/>
<circle cx="180.30" cy="575.00" r="1.2" fill="#e4231d"/>
<circle cx="179.70" cy="639.00" r="1.2" fill="#e4231d"/>
<circle cx="180.60" cy="626.00" r="1.2" fill="#e4231d"/>
<circle cx="176.90" cy="589.00" r="1.2" fill="#e4231d"/>
<circle cx="183.90" cy="589.30" r="1.2" fill="#e4231d"/>
<circle cx="175.40" cy="592.50" r="1.2" fill="#e4231d"/>
<line x1="172.90" y1="608.60" x2="187.70" y2="608.60" stroke="#d42a24" stroke-width="0.7" stroke-dasharray="1.4 0.9"/>
<path d="M203.30,583.30 L203.00,583.52 L202.70,583.76 L202.43,584.02 L202.19,584.36 L202.03,584.82 L201.91,585.35 L201.83,585.92 L201.83,586.48 L201.91,587.02 L202.05,587.55 L202.22,588.07 L202.36,588.58 L202.49,589.07 L202.59,589.55 L202.64,590.02 L202.57,590.49 L202.34,590.95 L201.99,591.40 L201.60,591.86 L201.19,592.35 L200.77,592.86 L200.36,593.40 L200.01,593.94 L199.82,594.48 L199.83,594.99 L200.01,595.50 L200.26,596.00 L200.55,596.50 L200.86,597.00 L201.20,597.50 L201.50,598.03 L201.72,598.62 L201.83,599.28 L201.84,600.00 L201.78,600.75 L201.65,601.50 L201.41,602.25 L201.09,603.00 L200.73,603.75 L200.31,604.50 L199.83,605.25 L199.30,606.00 L198.77,606.77 L198.27,607.56 L197.82,608.39 L197.41,609.25 L197.03,610.12 L196.73,611.00 L196.51,611.88 L196.36,612.75 L196.25,613.62 L196.19,614.50 L196.20,615.38 L196.26,616.25 L196.34,617.12 L196.47,618.00 L196.64,618.88 L196.85,619.75 L197.08,620.62 L197.34,621.50 L197.61,622.38 L197.90,623.25 L198.20,624.10 L198.49,624.89 L198.77,625.62 L199.05,626.29 L199.32,626.91 L199.59,627.45 L199.85,627.88 L200.10,628.24 L200.35,628.58 L200.60,628.90 L207.00,628.90 L207.25,628.58 L207.50,628.24 L207.75,627.88 L208.01,627.45 L208.28,626.91 L208.55,626.29 L208.83,625.62 L209.11,624.89 L209.40,624.10 L209.70,623.25 L209.99,622.38 L210.26,621.50 L210.52,620.62 L210.75,619.75 L210.96,618.88 L211.13,618.00 L211.26,617.12 L211.34,616.25 L211.40,615.38 L211.41,614.50 L211.35,613.62 L211.24,612.75 L211.09,611.88 L210.87,611.00 L210.57,610.12 L210.19,609.25 L209.78,608.39 L209.33,607.56 L208.83,606.77 L208.30,606.00 L207.78,605.25 L207.29,604.50 L206.88,603.75 L206.51,603.00 L206.19,602.25 L205.95,601.50 L205.82,600.75 L205.76,600.00 L205.77,599.28 L205.88,598.62 L206.10,598.03 L206.40,597.50 L206.74,597.00 L207.05,596.50 L207.34,596.00 L207.59,595.50 L207.77,594.99 L207.78,594.48 L207.59,593.94 L207.24,593.40 L206.83,592.86 L206.41,592.35 L206.00,591.86 L205.61,591.40 L205.26,590.95 L205.03,590.49 L204.96,590.02 L205.01,589.55 L205.11,589.07 L205.24,588.58 L205.38,588.07 L205.55,587.55 L205.69,587.02 L205.77,586.48 L205.77,585.92 L205.69,585.35 L205.58,584.82 L205.41,584.36 L205.18,584.02 L204.90,583.76 L204.60,583.52 L204.30,583.30Z" fill="#dedede" stroke="#3a3a3a" stroke-width="0.6"/>
<line x1="196.30" y1="614.60" x2="211.30" y2="614.60" stroke="#333" stroke-width="0.9" />
<line x1="197.00" y1="609.50" x2="210.60" y2="609.50" stroke="#444" stroke-width="0.6" stroke-dasharray="0.9 0.7"/>
<line x1="197.30" y1="621.00" x2="210.30" y2="621.00" stroke="#444" stroke-width="0.6" stroke-dasharray="0.9 0.7"/>
<circle cx="203.80" cy="584.40" r="1.1" fill="#8a8a8a" stroke="#444" stroke-width="0.4"/>
<circle cx="202.70" cy="586.60" r="1.1" fill="#8a8a8a" stroke="#444" stroke-width="0.4"/>
<circle cx="205.00" cy="587.20" r="1.1" fill="#8a8a8a" stroke="#444" stroke-width="0.4"/>
<circle cx="203.80" cy="590.00" r="1.1" fill="#8a8a8a" stroke="#444" stroke-width="0.4"/>
<circle cx="200.80" cy="594.30" r="1.1" fill="#8a8a8a" stroke="#444" stroke-width="0.4"/>
<circle cx="203.80" cy="593.60" r="1.1" fill="#8a8a8a" stroke="#444" stroke-width="0.4"/>
<circle cx="206.90" cy="594.60" r="1.1" fill="#8a8a8a" stroke="#444" stroke-width="0.4"/>
<circle cx="205.00" cy="596.50" r="1.1" fill="#8a8a8a" stroke="#444" stroke-width="0.4"/>
<circle cx="203.80" cy="600.00" r="1.1" fill="#8a8a8a" stroke="#444" stroke-width="0.4"/>
<circle cx="203.00" cy="603.00" r="1.1" fill="#8a8a8a" stroke="#444" stroke-width="0.4"/>
<circle cx="205.30" cy="605.80" r="1.1" fill="#8a8a8a" stroke="#444" stroke-width="0.4"/>
<circle cx="201.40" cy="607.50" r="1.1" fill="#8a8a8a" stroke="#444" stroke-width="0.4"/>
<circle cx="204.10" cy="611.00" r="1.1" fill="#8a8a8a" stroke="#444" stroke-width="0.4"/>
<circle cx="199.30" cy="612.00" r="1.1" fill="#8a8a8a" stroke="#444" stroke-width="0.4"/>
<circle cx="208.00" cy="612.60" r="1.1" fill="#8a8a8a" stroke="#444" stroke-width="0.4"/>
<circle cx="201.80" cy="616.80" r="1.1" fill="#8a8a8a" stroke="#444" stroke-width="0.4"/>
<circle cx="206.30" cy="617.20" r="1.1" fill="#8a8a8a" stroke="#444" stroke-width="0.4"/>
<circle cx="198.80" cy="618.50" r="1.1" fill="#8a8a8a" stroke="#444" stroke-width="0.4"/>
<circle cx="209.20" cy="618.20" r="1.1" fill="#8a8a8a" stroke="#444" stroke-width="0.4"/>
<circle cx="203.80" cy="621.00" r="1.1" fill="#8a8a8a" stroke="#444" stroke-width="0.4"/>
<circle cx="200.60" cy="624.00" r="1.1" fill="#8a8a8a" stroke="#444" stroke-width="0.4"/>
<circle cx="207.10" cy="624.40" r="1.1" fill="#8a8a8a" stroke="#444" stroke-width="0.4"/>
<circle cx="203.80" cy="627.40" r="1.1" fill="#8a8a8a" stroke="#444" stroke-width="0.4"/>
<line x1="180.30" y1="669.30" x2="180.30" y2="671.60" stroke="#222" stroke-width="0.7" />
<line x1="203.80" y1="669.30" x2="203.80" y2="671.60" stroke="#222" stroke-width="0.7" />
<path d="M180.3,544.8000000000001 V542.6 H204.3 V544.8000000000001" fill="none" stroke="#222" stroke-width="0.7"/>
<text x="192.30" y="539.40" font-size="7.3" text-anchor="middle" fill="#222"><tspan font-style="italic">P</tspan> = 0.015</text>
<text x="182.20" y="676.20" font-size="7.3" text-anchor="end" fill="#222" transform="rotate(-45 182.20 676.20)">EPIC</text><text x="185.40" y="682.00" font-size="7.3" text-anchor="end" fill="#222" transform="rotate(-45 185.40 682.00)">FL cases</text>
<text x="205.40" y="676.20" font-size="7.3" text-anchor="end" fill="#222" transform="rotate(-45 205.40 676.20)">EPIC</text><text x="209.80" y="683.90" font-size="7.3" text-anchor="end" fill="#222" transform="rotate(-45 209.80 683.90)">controls</text>
<text x="250.20" y="520.20" font-size="10.1" fill="#111" font-weight="bold">E</text>
<rect x="279.7" y="527.7" width="229.3" height="141.6" fill="#fff" stroke="#333" stroke-width="0.6"/>
<line x1="279.70" y1="546.30" x2="509.00" y2="546.30" stroke="#333" stroke-width="0.7" stroke-dasharray="2 2.15"/>
<line x1="277.80" y1="638.85" x2="279.70" y2="638.85" stroke="#333" stroke-width="0.6" />
<text x="276.40" y="641.65" font-size="7.8" text-anchor="end" fill="#333">0.5</text>
<line x1="277.80" y1="608.00" x2="279.70" y2="608.00" stroke="#333" stroke-width="0.6" />
<text x="276.40" y="610.80" font-size="7.8" text-anchor="end" fill="#333">1.0</text>
<line x1="277.80" y1="577.15" x2="279.70" y2="577.15" stroke="#333" stroke-width="0.6" />
<text x="276.40" y="579.95" font-size="7.8" text-anchor="end" fill="#333">1.5</text>
<line x1="277.80" y1="546.30" x2="279.70" y2="546.30" stroke="#333" stroke-width="0.6" />
<text x="276.40" y="549.10" font-size="7.8" text-anchor="end" fill="#333">2.0</text>
<text x="262.40" y="598.60" font-size="6.9" text-anchor="middle" fill="#333" transform="rotate(-90 262.40 598.60)">VAF %</text>
<line x1="289.40" y1="669.50" x2="289.40" y2="671.40" stroke="#333" stroke-width="0.6" />
<text x="291.30" y="672.90" font-size="7.0" text-anchor="end" fill="#333" transform="rotate(-90 291.30 672.90)">208</text>
<line x1="289.40" y1="642.55" x2="289.40" y2="662.30" stroke="#333" stroke-width="0.5" />
<rect x="283.20" y="648.72" width="12.4" height="11.35" fill="#ee746b" stroke="#5a2a26" stroke-width="0.45"/>
<line x1="283.20" y1="658.84" x2="295.60" y2="658.84" stroke="#5a2a26" stroke-width="0.6" />
<circle cx="290.00" cy="634.53" r="1.5" fill="#111"/>
<circle cx="287.50" cy="641.94" r="1.5" fill="#111"/>
<circle cx="289.70" cy="644.40" r="1.5" fill="#111"/>
<circle cx="288.80" cy="657.98" r="1.5" fill="#111"/>
<circle cx="287.20" cy="661.68" r="1.5" fill="#111"/>
<circle cx="288.00" cy="659.83" r="1.5" fill="#111"/>
<circle cx="289.80" cy="657.36" r="1.5" fill="#111"/>
<line x1="305.56" y1="669.50" x2="305.56" y2="671.40" stroke="#333" stroke-width="0.6" />
<text x="307.46" y="672.90" font-size="7.0" text-anchor="end" fill="#333" transform="rotate(-90 307.46 672.90)">204</text>
<line x1="305.56" y1="622.19" x2="305.56" y2="662.30" stroke="#333" stroke-width="0.5" />
<rect x="299.36" y="641.32" width="12.4" height="17.52" fill="#ee746b" stroke="#5a2a26" stroke-width="0.45"/>
<line x1="299.36" y1="657.36" x2="311.76" y2="657.36" stroke="#5a2a26" stroke-width="0.6" />
<circle cx="305.76" cy="601.34" r="1.5" fill="#111"/>
<circle cx="305.06" cy="622.19" r="1.5" fill="#111"/>
<circle cx="306.76" cy="641.32" r="1.5" fill="#111"/>
<circle cx="306.36" cy="656.13" r="1.5" fill="#111"/>
<circle cx="305.06" cy="659.21" r="1.5" fill="#111"/>
<circle cx="304.56" cy="662.30" r="1.5" fill="#111"/>
<circle cx="305.36" cy="660.45" r="1.5" fill="#111"/>
<line x1="321.72" y1="669.50" x2="321.72" y2="671.40" stroke="#333" stroke-width="0.6" />
<text x="323.62" y="672.90" font-size="7.0" text-anchor="end" fill="#333" transform="rotate(-90 323.62 672.90)">189</text>
<line x1="321.72" y1="632.68" x2="321.72" y2="658.59" stroke="#333" stroke-width="0.5" />
<rect x="315.52" y="644.03" width="12.4" height="12.83" fill="#ee746b" stroke="#5a2a26" stroke-width="0.45"/>
<line x1="315.52" y1="655.63" x2="327.92" y2="655.63" stroke="#5a2a26" stroke-width="0.6" />
<circle cx="321.22" cy="632.68" r="1.5" fill="#111"/>
<circle cx="321.72" cy="655.51" r="1.5" fill="#111"/>
<circle cx="322.42" cy="657.05" r="1.5" fill="#111"/>
<circle cx="322.92" cy="658.59" r="1.5" fill="#111"/>
<line x1="337.88" y1="669.50" x2="337.88" y2="671.40" stroke="#333" stroke-width="0.6" />
<text x="339.78" y="672.90" font-size="7.0" text-anchor="end" fill="#333" transform="rotate(-90 339.78 672.90)">195</text>
<line x1="337.88" y1="654.89" x2="337.88" y2="654.89" stroke="#333" stroke-width="0.5" />
<line x1="331.68" y1="654.89" x2="344.08" y2="654.89" stroke="#333" stroke-width="0.6" />
<circle cx="338.58" cy="654.89" r="1.5" fill="#111"/>
<line x1="354.04" y1="669.50" x2="354.04" y2="671.40" stroke="#333" stroke-width="0.6" />
<text x="355.94" y="672.90" font-size="7.0" text-anchor="end" fill="#333" transform="rotate(-90 355.94 672.90)">191</text>
<line x1="354.04" y1="653.16" x2="354.04" y2="653.16" stroke="#333" stroke-width="0.5" />
<line x1="347.84" y1="653.16" x2="360.24" y2="653.16" stroke="#333" stroke-width="0.6" />
<circle cx="354.24" cy="653.16" r="1.5" fill="#111"/>
<line x1="370.20" y1="669.50" x2="370.20" y2="671.40" stroke="#333" stroke-width="0.6" />
<text x="372.10" y="672.90" font-size="7.0" text-anchor="end" fill="#333" transform="rotate(-90 372.10 672.90)">197</text>
<line x1="370.20" y1="642.55" x2="370.20" y2="654.89" stroke="#333" stroke-width="0.5" />
<rect x="364.00" y="647.49" width="12.4" height="6.17" fill="#ee746b" stroke="#5a2a26" stroke-width="0.45"/>
<line x1="364.00" y1="651.93" x2="376.40" y2="651.93" stroke="#5a2a26" stroke-width="0.6" />
<circle cx="369.70" cy="642.55" r="1.5" fill="#111"/>
<circle cx="371.40" cy="651.93" r="1.5" fill="#111"/>
<circle cx="369.70" cy="654.89" r="1.5" fill="#111"/>
<line x1="386.36" y1="669.50" x2="386.36" y2="671.40" stroke="#333" stroke-width="0.6" />
<text x="388.26" y="672.90" font-size="7.0" text-anchor="end" fill="#333" transform="rotate(-90 388.26 672.90)">186</text>
<line x1="386.36" y1="647.73" x2="386.36" y2="654.40" stroke="#333" stroke-width="0.5" />
<rect x="380.16" y="649.46" width="12.4" height="3.46" fill="#ee746b" stroke="#5a2a26" stroke-width="0.45"/>
<line x1="380.16" y1="651.50" x2="392.56" y2="651.50" stroke="#5a2a26" stroke-width="0.6" />
<circle cx="386.36" cy="647.73" r="1.5" fill="#111"/>
<circle cx="385.16" cy="654.40" r="1.5" fill="#111"/>
<line x1="402.52" y1="669.50" x2="402.52" y2="671.40" stroke="#333" stroke-width="0.6" />
<text x="404.42" y="672.90" font-size="7.0" text-anchor="end" fill="#333" transform="rotate(-90 404.42 672.90)">194</text>
<line x1="402.52" y1="648.72" x2="402.52" y2="651.81" stroke="#333" stroke-width="0.5" />
<rect x="396.32" y="649.03" width="12.4" height="2.16" fill="#ee746b" stroke="#5a2a26" stroke-width="0.45"/>
<line x1="396.32" y1="650.08" x2="408.72" y2="650.08" stroke="#5a2a26" stroke-width="0.6" />
<circle cx="402.72" cy="648.72" r="1.5" fill="#111"/>
<circle cx="402.12" cy="651.50" r="1.5" fill="#111"/>
<line x1="418.68" y1="669.50" x2="418.68" y2="671.40" stroke="#333" stroke-width="0.6" />
<text x="420.58" y="672.90" font-size="7.0" text-anchor="end" fill="#333" transform="rotate(-90 420.58 672.90)">196</text>
<line x1="418.68" y1="645.64" x2="418.68" y2="649.34" stroke="#333" stroke-width="0.5" />
<rect x="412.48" y="646.38" width="12.4" height="2.04" fill="#ee746b" stroke="#5a2a26" stroke-width="0.45"/>
<line x1="412.48" y1="647.49" x2="424.88" y2="647.49" stroke="#5a2a26" stroke-width="0.6" />
<circle cx="418.98" cy="645.95" r="1.5" fill="#111"/>
<circle cx="418.88" cy="649.03" r="1.5" fill="#111"/>
<line x1="434.84" y1="669.50" x2="434.84" y2="671.40" stroke="#333" stroke-width="0.6" />
<text x="436.74" y="672.90" font-size="7.0" text-anchor="end" fill="#333" transform="rotate(-90 436.74 672.90)">192</text>
<line x1="434.84" y1="612.07" x2="434.84" y2="651.19" stroke="#333" stroke-width="0.5" />
<rect x="428.64" y="627.13" width="12.4" height="19.74" fill="#ee746b" stroke="#5a2a26" stroke-width="0.45"/>
<line x1="428.64" y1="642.74" x2="441.04" y2="642.74" stroke="#5a2a26" stroke-width="0.6" />
<circle cx="435.24" cy="612.07" r="1.5" fill="#111"/>
<circle cx="435.04" cy="642.74" r="1.5" fill="#111"/>
<circle cx="435.04" cy="651.19" r="1.5" fill="#111"/>
<line x1="451.00" y1="669.50" x2="451.00" y2="671.40" stroke="#333" stroke-width="0.6" />
<text x="452.90" y="672.90" font-size="7.0" text-anchor="end" fill="#333" transform="rotate(-90 452.90 672.90)">188</text>
<line x1="451.00" y1="640.70" x2="451.00" y2="644.40" stroke="#333" stroke-width="0.5" />
<rect x="444.80" y="641.50" width="12.4" height="1.97" fill="#ee746b" stroke="#5a2a26" stroke-width="0.45"/>
<line x1="444.80" y1="642.55" x2="457.20" y2="642.55" stroke="#5a2a26" stroke-width="0.6" />
<circle cx="451.60" cy="641.01" r="1.5" fill="#111"/>
<circle cx="451.30" cy="644.09" r="1.5" fill="#111"/>
<line x1="467.16" y1="669.50" x2="467.16" y2="671.40" stroke="#333" stroke-width="0.6" />
<text x="469.06" y="672.90" font-size="7.0" text-anchor="end" fill="#333" transform="rotate(-90 469.06 672.90)">190</text>
<line x1="467.16" y1="638.23" x2="467.16" y2="638.23" stroke="#333" stroke-width="0.5" />
<line x1="460.96" y1="638.23" x2="473.36" y2="638.23" stroke="#333" stroke-width="0.6" />
<circle cx="467.36" cy="638.23" r="1.5" fill="#111"/>
<line x1="483.32" y1="669.50" x2="483.32" y2="671.40" stroke="#333" stroke-width="0.6" />
<text x="485.22" y="672.90" font-size="7.0" text-anchor="end" fill="#333" transform="rotate(-90 485.22 672.90)">207</text>
<line x1="483.32" y1="630.83" x2="483.32" y2="632.68" stroke="#333" stroke-width="0.5" />
<rect x="477.12" y="631.14" width="12.4" height="0.93" fill="#ee746b" stroke="#5a2a26" stroke-width="0.45"/>
<line x1="477.12" y1="631.69" x2="489.52" y2="631.69" stroke="#5a2a26" stroke-width="0.6" />
<circle cx="484.22" cy="630.83" r="1.5" fill="#111"/>
<circle cx="482.72" cy="632.37" r="1.5" fill="#111"/>
<line x1="499.48" y1="669.50" x2="499.48" y2="671.40" stroke="#333" stroke-width="0.6" />
<text x="501.38" y="672.90" font-size="7.0" text-anchor="end" fill="#333" transform="rotate(-90 501.38 672.90)">193</text>
<line x1="499.48" y1="535.19" x2="499.48" y2="609.85" stroke="#333" stroke-width="0.5" />
<rect x="493.28" y="553.70" width="12.4" height="38.25" fill="#ee746b" stroke="#5a2a26" stroke-width="0.45"/>
<line x1="493.28" y1="572.21" x2="505.68" y2="572.21" stroke="#5a2a26" stroke-width="0.6" />
<circle cx="498.88" cy="535.19" r="1.5" fill="#111"/>
<circle cx="499.98" cy="609.85" r="1.5" fill="#111"/>
</g>
</svg>
</body></html>
